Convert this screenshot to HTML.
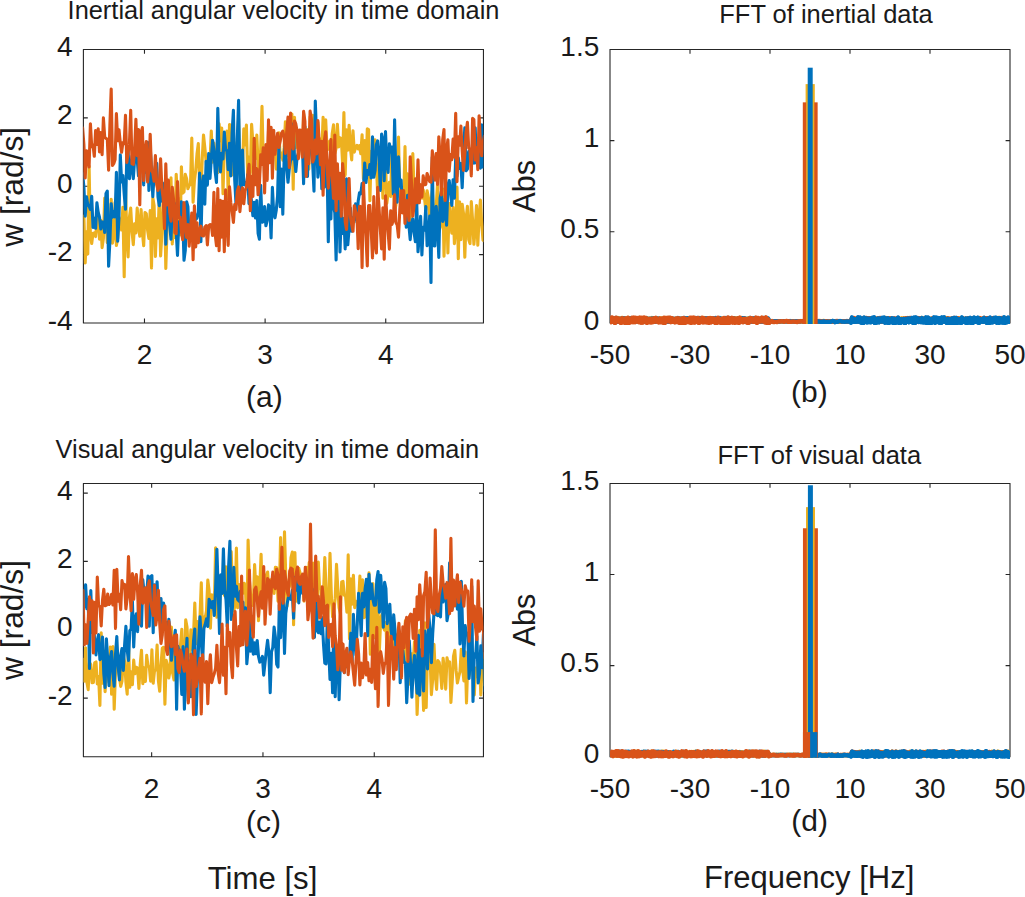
<!DOCTYPE html>
<html><head><meta charset="utf-8"><title>Angular velocity figure</title>
<style>html,body{margin:0;padding:0;background:#fff;overflow:hidden}svg{display:block}text{font-family:"Liberation Sans",sans-serif}</style>
</head><body>
<svg width="1025" height="897" viewBox="0 0 1025 897" font-family='"Liberation Sans", sans-serif'><rect width="100%" height="100%" fill="#fff"/><defs><clipPath id="ca"><rect x="83.4" y="46.45" width="400.04999999999995" height="278.55"/></clipPath><clipPath id="cc"><rect x="83.4" y="480.45" width="400.04999999999995" height="278.25000000000006"/></clipPath><clipPath id="cb"><rect x="610.0" y="46.45" width="400.0" height="278.55"/></clipPath><clipPath id="cd"><rect x="610.0" y="480.45" width="400.0" height="278.25000000000006"/></clipPath></defs><path d="M144.48 323V318.6M144.48 49.45V53.85M265.11 323V318.6M265.11 49.45V53.85M385.74 323V318.6M385.74 49.45V53.85M83.4 323H87.8M483.45 323H479.05M83.4 254.61H87.8M483.45 254.61H479.05M83.4 186.22H87.8M483.45 186.22H479.05M83.4 117.84H87.8M483.45 117.84H479.05M83.4 49.45H87.8M483.45 49.45H479.05M82.9 49.45H483.95M82.9 323H483.95M83.4 49.45V323M483.45 49.45V323" stroke="#262626" stroke-width="1.1" fill="none"/><text transform="translate(144.48 364.3)" font-size="28" text-anchor="middle" fill="#1a1a1a">2</text><text transform="translate(265.11 364.3)" font-size="28" text-anchor="middle" fill="#1a1a1a">3</text><text transform="translate(385.74 364.3)" font-size="28" text-anchor="middle" fill="#1a1a1a">4</text><text transform="translate(72.7 329.5)" font-size="28" text-anchor="end" fill="#1a1a1a">-4</text><text transform="translate(72.7 261.11)" font-size="28" text-anchor="end" fill="#1a1a1a">-2</text><text transform="translate(72.7 192.72)" font-size="28" text-anchor="end" fill="#1a1a1a">0</text><text transform="translate(72.7 124.34)" font-size="28" text-anchor="end" fill="#1a1a1a">2</text><text transform="translate(72.7 55.95)" font-size="28" text-anchor="end" fill="#1a1a1a">4</text><path d="M151.65 756.7V752.3M151.65 483.45V487.85M262.96 756.7V752.3M262.96 483.45V487.85M374.26 756.7V752.3M374.26 483.45V487.85M83.4 698.1H87.8M483.45 698.1H479.05M83.4 629.76H87.8M483.45 629.76H479.05M83.4 561.42H87.8M483.45 561.42H479.05M83.4 493.09H87.8M483.45 493.09H479.05M82.9 483.45H483.95M82.9 756.7H483.95M83.4 483.45V756.7M483.45 483.45V756.7" stroke="#262626" stroke-width="1.1" fill="none"/><text transform="translate(151.65 798.4)" font-size="28" text-anchor="middle" fill="#1a1a1a">2</text><text transform="translate(262.96 798.4)" font-size="28" text-anchor="middle" fill="#1a1a1a">3</text><text transform="translate(374.26 798.4)" font-size="28" text-anchor="middle" fill="#1a1a1a">4</text><text transform="translate(72.7 704.6)" font-size="28" text-anchor="end" fill="#1a1a1a">-2</text><text transform="translate(72.7 636.26)" font-size="28" text-anchor="end" fill="#1a1a1a">0</text><text transform="translate(72.7 567.92)" font-size="28" text-anchor="end" fill="#1a1a1a">2</text><text transform="translate(72.7 499.59)" font-size="28" text-anchor="end" fill="#1a1a1a">4</text><path d="M610 323V318.6M610 49.45V53.85M690 323V318.6M690 49.45V53.85M770 323V318.6M770 49.45V53.85M850 323V318.6M850 49.45V53.85M930 323V318.6M930 49.45V53.85M1010 323V318.6M1010 49.45V53.85M610 323H614.4M1010 323H1005.6M610 231.82H614.4M1010 231.82H1005.6M610 140.63H614.4M1010 140.63H1005.6M610 49.45H614.4M1010 49.45H1005.6M609.5 49.45H1010.5M609.5 323H1010.5M610 49.45V323M1010 49.45V323" stroke="#262626" stroke-width="1.1" fill="none"/><text transform="translate(610 364.3)" font-size="28" text-anchor="middle" fill="#1a1a1a">-50</text><text transform="translate(690 364.3)" font-size="28" text-anchor="middle" fill="#1a1a1a">-30</text><text transform="translate(770 364.3)" font-size="28" text-anchor="middle" fill="#1a1a1a">-10</text><text transform="translate(850 364.3)" font-size="28" text-anchor="middle" fill="#1a1a1a">10</text><text transform="translate(930 364.3)" font-size="28" text-anchor="middle" fill="#1a1a1a">30</text><text transform="translate(1010 364.3)" font-size="28" text-anchor="middle" fill="#1a1a1a">50</text><text transform="translate(599.3 329.5)" font-size="28" text-anchor="end" fill="#1a1a1a">0</text><text transform="translate(599.3 238.32)" font-size="28" text-anchor="end" fill="#1a1a1a">0.5</text><text transform="translate(599.3 147.13)" font-size="28" text-anchor="end" fill="#1a1a1a">1</text><text transform="translate(599.3 55.95)" font-size="28" text-anchor="end" fill="#1a1a1a">1.5</text><path d="M610 756.7V752.3M610 483.45V487.85M690 756.7V752.3M690 483.45V487.85M770 756.7V752.3M770 483.45V487.85M850 756.7V752.3M850 483.45V487.85M930 756.7V752.3M930 483.45V487.85M1010 756.7V752.3M1010 483.45V487.85M610 756.7H614.4M1010 756.7H1005.6M610 665.62H614.4M1010 665.62H1005.6M610 574.53H614.4M1010 574.53H1005.6M610 483.45H614.4M1010 483.45H1005.6M609.5 483.45H1010.5M609.5 756.7H1010.5M610 483.45V756.7M1010 483.45V756.7" stroke="#262626" stroke-width="1.1" fill="none"/><text transform="translate(610 798.4)" font-size="28" text-anchor="middle" fill="#1a1a1a">-50</text><text transform="translate(690 798.4)" font-size="28" text-anchor="middle" fill="#1a1a1a">-30</text><text transform="translate(770 798.4)" font-size="28" text-anchor="middle" fill="#1a1a1a">-10</text><text transform="translate(850 798.4)" font-size="28" text-anchor="middle" fill="#1a1a1a">10</text><text transform="translate(930 798.4)" font-size="28" text-anchor="middle" fill="#1a1a1a">30</text><text transform="translate(1010 798.4)" font-size="28" text-anchor="middle" fill="#1a1a1a">50</text><text transform="translate(599.3 763.2)" font-size="28" text-anchor="end" fill="#1a1a1a">0</text><text transform="translate(599.3 672.12)" font-size="28" text-anchor="end" fill="#1a1a1a">0.5</text><text transform="translate(599.3 581.03)" font-size="28" text-anchor="end" fill="#1a1a1a">1</text><text transform="translate(599.3 489.95)" font-size="28" text-anchor="end" fill="#1a1a1a">1.5</text><polyline points="77.4,193.7 78.7,286.9 80.0,210.0 81.3,224.0 82.6,218.6 83.9,216.0 85.2,263.0 86.5,231.8 87.8,254.0 89.1,166.1 90.4,235.5 91.7,243.5 93.0,233.2 94.3,232.9 95.6,236.6 96.9,223.7 98.2,212.5 99.5,239.2 100.8,220.4 102.1,247.6 103.4,238.2 104.7,198.1 106.0,217.1 107.3,242.6 108.6,241.4 109.9,230.3 111.2,199.4 112.5,243.1 113.8,234.9 115.1,202.3 116.4,245.5 117.7,238.0 119.0,217.6 120.3,225.0 121.6,230.0 122.9,207.3 124.2,276.7 125.5,188.2 126.8,235.4 128.1,256.9 129.4,217.4 130.7,208.0 132.0,231.3 133.3,244.7 134.6,223.8 135.9,233.0 137.2,208.0 138.5,226.2 139.8,236.2 141.1,209.5 142.4,232.7 143.7,245.8 145.0,212.5 146.3,213.6 147.6,230.2 148.9,238.5 150.2,210.6 151.5,267.9 152.8,197.8 154.1,205.8 155.4,256.5 156.7,218.7 158.0,238.0 159.3,195.5 160.6,255.9 161.9,233.3 163.2,201.9 164.5,195.3 165.8,268.5 167.1,227.4 168.4,204.6 169.7,224.1 171.0,177.9 172.3,243.9 173.6,210.7 174.9,237.7 176.2,174.2 177.5,197.3 178.8,201.5 180.1,234.9 181.4,166.7 182.7,193.1 184.0,191.9 185.3,174.4 186.6,178.7 187.9,188.7 189.2,185.5 190.5,184.4 191.8,138.0 193.1,202.1 194.4,181.0 195.7,170.6 197.0,154.0 198.3,143.6 199.6,184.0 200.9,196.2 202.2,159.9 203.5,135.0 204.8,147.5 206.1,161.4 207.4,173.4 208.7,156.7 210.0,162.2 211.3,131.0 212.6,162.1 213.9,143.0 215.2,157.2 216.5,155.2 217.8,172.7 219.1,123.8 220.4,140.8 221.7,128.1 223.0,193.6 224.3,147.5 225.6,152.3 226.9,131.0 228.2,198.7 229.5,124.5 230.8,125.7 232.1,175.0 233.4,165.2 234.7,161.9 236.0,147.6 237.3,141.7 238.6,118.5 239.9,175.0 241.2,156.7 242.5,169.3 243.8,128.8 245.1,144.9 246.4,125.0 247.7,176.4 249.0,157.3 250.3,173.9 251.6,124.4 252.9,142.5 254.2,159.9 255.5,158.3 256.8,135.0 258.1,163.7 259.4,174.8 260.7,149.2 262.0,106.4 263.3,161.5 264.6,159.2 265.9,165.0 267.2,166.8 268.5,131.0 269.8,133.3 271.1,159.7 272.4,153.2 273.7,151.4 275.0,140.6 276.3,169.2 277.6,142.7 278.9,132.7 280.2,157.1 281.5,153.0 282.8,160.2 284.1,147.7 285.4,121.7 286.7,154.2 288.0,155.6 289.3,139.5 290.6,143.4 291.9,114.0 293.2,189.3 294.5,117.3 295.8,147.4 297.1,141.3 298.4,136.4 299.7,139.1 301.0,141.4 302.3,155.2 303.6,113.6 304.9,148.6 306.2,144.7 307.5,129.6 308.8,169.1 310.1,116.7 311.4,144.8 312.7,115.2 314.0,155.9 315.3,154.7 316.6,136.2 317.9,122.3 319.2,155.0 320.5,139.0 321.8,152.5 323.1,117.4 324.4,164.8 325.7,119.7 327.0,148.9 328.3,149.2 329.6,141.3 330.9,155.3 332.2,133.8 333.5,124.9 334.8,153.7 336.1,148.4 337.4,124.3 338.7,146.9 340.0,137.7 341.3,138.5 342.6,163.5 343.9,112.6 345.2,175.4 346.5,129.9 347.8,150.2 349.1,125.3 350.4,148.1 351.7,159.9 353.0,130.8 354.3,152.2 355.6,147.3 356.9,145.4 358.2,149.0 359.5,145.7 360.8,153.7 362.1,134.9 363.4,178.8 364.7,140.6 366.0,172.6 367.3,128.8 368.6,129.5 369.9,200.8 371.2,151.2 372.5,154.3 373.8,173.8 375.1,139.7 376.4,164.1 377.7,195.7 379.0,164.9 380.3,165.3 381.6,163.7 382.9,198.1 384.2,160.9 385.5,160.6 386.8,203.4 388.1,193.4 389.4,182.4 390.7,196.4 392.0,148.2 393.3,184.3 394.6,211.3 395.9,204.9 397.2,187.8 398.5,137.1 399.8,196.7 401.1,195.4 402.4,190.2 403.7,202.1 405.0,146.6 406.3,204.6 407.6,173.8 408.9,187.7 410.2,180.0 411.5,221.3 412.8,153.6 414.1,190.3 415.4,181.7 416.7,202.3 418.0,202.9 419.3,184.2 420.6,185.7 421.9,198.2 423.2,189.8 424.5,198.2 425.8,210.0 427.1,190.7 428.4,197.9 429.7,216.9 431.0,201.8 432.3,191.0 433.6,214.9 434.9,229.0 436.2,207.3 437.5,183.8 438.8,232.0 440.1,227.5 441.4,223.8 442.7,188.9 444.0,256.1 445.3,211.4 446.6,201.0 447.9,252.9 449.2,203.5 450.5,219.3 451.8,233.2 453.1,207.4 454.4,243.7 455.7,228.4 457.0,187.0 458.3,258.7 459.6,201.8 460.9,239.6 462.2,204.2 463.5,213.4 464.8,257.1 466.1,219.5 467.4,206.3 468.7,239.5 470.0,243.6 471.3,201.5 472.6,220.3 473.9,244.3 475.2,228.8 476.5,205.6 477.8,245.3 479.1,217.6 480.4,200.0 481.7,223.5 483.0,240.2 484.3,240.7 485.6,216.7 486.9,206.1 488.2,228.9 489.5,226.5" fill="none" stroke="#EDB120" stroke-width="3.1" stroke-linejoin="round" stroke-linecap="butt" clip-path="url(#ca)"/><polyline points="77.4,186.9 78.7,179.9 80.0,190.5 81.3,225.3 82.6,173.5 83.9,187.0 85.2,216.1 86.5,196.8 87.8,205.0 89.1,205.9 90.4,209.4 91.7,196.2 93.0,227.5 94.3,218.2 95.6,228.3 96.9,202.8 98.2,212.4 99.5,217.1 100.8,229.0 102.1,221.9 103.4,222.5 104.7,232.5 106.0,193.4 107.3,191.0 108.6,266.1 109.9,241.2 111.2,203.7 112.5,217.1 113.8,211.5 115.1,216.8 116.4,172.4 117.7,241.1 119.0,216.8 120.3,154.9 121.6,181.9 122.9,175.4 124.2,193.9 125.5,209.3 126.8,157.0 128.1,150.9 129.4,178.8 130.7,167.4 132.0,156.1 133.3,178.6 134.6,159.9 135.9,156.1 137.2,159.5 138.5,175.8 139.8,154.6 141.1,150.0 142.4,162.2 143.7,184.9 145.0,145.5 146.3,172.5 147.6,142.3 148.9,190.4 150.2,147.4 151.5,169.5 152.8,196.6 154.1,173.8 155.4,165.8 156.7,163.4 158.0,197.1 159.3,205.6 160.6,180.9 161.9,201.1 163.2,189.8 164.5,183.0 165.8,244.1 167.1,205.5 168.4,187.2 169.7,225.1 171.0,239.3 172.3,205.5 173.6,218.4 174.9,203.9 176.2,231.3 177.5,255.4 178.8,221.9 180.1,229.1 181.4,201.9 182.7,217.0 184.0,260.2 185.3,250.2 186.6,201.7 187.9,206.6 189.2,239.3 190.5,228.9 191.8,222.9 193.1,224.5 194.4,212.5 195.7,219.5 197.0,217.9 198.3,211.9 199.6,173.0 200.9,241.6 202.2,186.2 203.5,176.0 204.8,204.3 206.1,161.4 207.4,185.2 208.7,153.5 210.0,178.4 211.3,158.6 212.6,140.2 213.9,150.7 215.2,171.7 216.5,182.5 217.8,108.4 219.1,155.2 220.4,171.9 221.7,153.3 223.0,158.9 224.3,132.0 225.6,149.5 226.9,151.0 228.2,169.7 229.5,143.2 230.8,176.0 232.1,133.3 233.4,110.3 234.7,179.7 236.0,204.2 237.3,139.1 238.6,100.4 239.9,185.6 241.2,192.2 242.5,150.1 243.8,184.8 245.1,182.3 246.4,186.6 247.7,174.9 249.0,203.6 250.3,191.7 251.6,202.3 252.9,215.8 254.2,202.3 255.5,218.0 256.8,200.5 258.1,233.3 259.4,239.2 260.7,185.4 262.0,222.3 263.3,221.6 264.6,206.5 265.9,225.8 267.2,220.4 268.5,204.9 269.8,207.3 271.1,238.0 272.4,187.3 273.7,213.3 275.0,217.8 276.3,209.9 277.6,195.6 278.9,146.6 280.2,206.6 281.5,169.0 282.8,214.3 284.1,159.9 285.4,137.8 286.7,167.1 288.0,182.3 289.3,168.3 290.6,160.0 291.9,159.1 293.2,124.0 294.5,158.4 295.8,171.5 297.1,157.0 298.4,153.1 299.7,146.7 301.0,147.9 302.3,141.8 303.6,183.6 304.9,126.6 306.2,160.4 307.5,176.5 308.8,138.0 310.1,126.8 311.4,151.2 312.7,163.8 314.0,191.2 315.3,101.0 316.6,139.4 317.9,177.1 319.2,162.9 320.5,143.3 321.8,188.8 323.1,161.2 324.4,187.2 325.7,154.9 327.0,161.0 328.3,241.6 329.6,176.3 330.9,219.0 332.2,168.0 333.5,205.9 334.8,212.7 336.1,259.9 337.4,196.0 338.7,188.0 340.0,252.0 341.3,212.6 342.6,233.5 343.9,218.6 345.2,248.9 346.5,178.7 347.8,244.8 349.1,228.5 350.4,208.0 351.7,231.3 353.0,217.7 354.3,219.7 355.6,203.8 356.9,222.2 358.2,201.0 359.5,192.7 360.8,193.8 362.1,183.5 363.4,190.0 364.7,163.1 366.0,182.5 367.3,170.5 368.6,174.4 369.9,164.5 371.2,178.0 372.5,136.9 373.8,177.3 375.1,170.1 376.4,144.5 377.7,140.9 379.0,155.7 380.3,190.4 381.6,134.1 382.9,139.7 384.2,180.6 385.5,131.5 386.8,164.4 388.1,172.5 389.4,143.7 390.7,151.9 392.0,147.0 393.3,193.7 394.6,119.7 395.9,178.3 397.2,202.3 398.5,156.8 399.8,186.2 401.1,180.0 402.4,205.6 403.7,207.0 405.0,203.7 406.3,227.3 407.6,195.4 408.9,225.0 410.2,239.6 411.5,223.8 412.8,218.9 414.1,232.9 415.4,241.8 416.7,200.9 418.0,251.8 419.3,235.9 420.6,216.4 421.9,254.9 423.2,227.3 424.5,230.2 425.8,206.6 427.1,245.7 428.4,237.6 429.7,216.1 431.0,282.5 432.3,157.0 433.6,245.8 434.9,245.9 436.2,206.3 437.5,222.3 438.8,257.4 440.1,198.3 441.4,191.3 442.7,221.4 444.0,217.8 445.3,198.5 446.6,225.3 447.9,185.4 449.2,180.5 450.5,192.5 451.8,205.4 453.1,179.7 454.4,198.1 455.7,157.3 457.0,176.1 458.3,157.7 459.6,168.5 460.9,163.5 462.2,187.8 463.5,155.1 464.8,127.8 466.1,170.7 467.4,169.1 468.7,151.5 470.0,155.0 471.3,161.3 472.6,147.1 473.9,163.1 475.2,127.9 476.5,163.3 477.8,156.2 479.1,141.0 480.4,168.2 481.7,124.9 483.0,167.0 484.3,164.6 485.6,149.6 486.9,143.3 488.2,177.7 489.5,154.2" fill="none" stroke="#0072BD" stroke-width="3.1" stroke-linejoin="round" stroke-linecap="butt" clip-path="url(#ca)"/><polyline points="77.4,146.7 78.7,168.2 80.0,171.0 81.3,220.8 82.6,127.7 83.9,144.5 85.2,177.9 86.5,150.7 87.8,156.3 89.1,167.0 90.4,123.7 91.7,146.7 93.0,144.8 94.3,156.3 95.6,130.6 96.9,144.5 98.2,128.9 99.5,152.0 100.8,132.5 102.1,154.7 103.4,117.8 104.7,137.1 106.0,138.5 107.3,139.2 108.6,170.3 109.9,125.1 111.2,89.1 112.5,165.5 113.8,163.4 115.1,159.5 116.4,113.6 117.7,140.7 119.0,129.7 120.3,143.0 121.6,152.3 122.9,142.5 124.2,143.6 125.5,115.3 126.8,162.4 128.1,153.1 129.4,144.4 130.7,110.4 132.0,163.9 133.3,164.4 134.6,149.8 135.9,119.2 137.2,155.8 138.5,129.5 139.8,204.7 141.1,132.5 142.4,127.6 143.7,180.5 145.0,151.3 146.3,141.6 147.6,182.0 148.9,168.9 150.2,134.2 151.5,170.7 152.8,172.7 154.1,181.2 155.4,155.5 156.7,184.7 158.0,190.3 159.3,185.7 160.6,158.9 161.9,188.5 163.2,198.2 164.5,228.8 165.8,163.8 167.1,205.0 168.4,180.0 169.7,212.1 171.0,221.1 172.3,187.3 173.6,199.8 174.9,232.8 176.2,233.7 177.5,181.6 178.8,217.8 180.1,217.1 181.4,231.8 182.7,239.8 184.0,202.6 185.3,223.6 186.6,237.4 187.9,224.5 189.2,246.2 190.5,228.1 191.8,213.0 193.1,259.7 194.4,205.7 195.7,247.0 197.0,222.7 198.3,242.8 199.6,230.3 200.9,226.2 202.2,235.8 203.5,235.9 204.8,227.3 206.1,225.6 207.4,245.0 208.7,225.7 210.0,224.6 211.3,224.7 212.6,235.5 213.9,192.3 215.2,234.5 216.5,245.7 217.8,188.5 219.1,250.8 220.4,200.2 221.7,237.1 223.0,201.4 224.3,251.6 225.6,189.8 226.9,220.7 228.2,245.4 229.5,186.8 230.8,202.7 232.1,211.0 233.4,222.4 234.7,204.6 236.0,209.4 237.3,191.2 238.6,186.9 239.9,211.6 241.2,197.5 242.5,187.9 243.8,203.8 245.1,190.8 246.4,187.3 247.7,176.2 249.0,164.3 250.3,210.7 251.6,176.5 252.9,196.4 254.2,138.2 255.5,184.8 256.8,168.7 258.1,194.8 259.4,184.2 260.7,154.7 262.0,164.5 263.3,147.8 264.6,193.0 265.9,144.5 267.2,180.4 268.5,119.9 269.8,162.7 271.1,127.3 272.4,178.2 273.7,130.4 275.0,154.3 276.3,142.7 277.6,133.4 278.9,147.5 280.2,141.2 281.5,133.2 282.8,131.1 284.1,137.2 285.4,153.4 286.7,131.9 288.0,117.1 289.3,167.5 290.6,113.0 291.9,144.6 293.2,149.0 294.5,121.0 295.8,123.9 297.1,131.3 298.4,158.6 299.7,130.1 301.0,130.3 302.3,157.3 303.6,111.4 304.9,121.1 306.2,176.4 307.5,130.3 308.8,163.8 310.1,111.1 311.4,118.9 312.7,162.0 314.0,158.4 315.3,140.0 316.6,153.9 317.9,120.5 319.2,142.1 320.5,164.8 321.8,141.2 323.1,195.3 324.4,140.5 325.7,131.7 327.0,164.6 328.3,188.1 329.6,168.2 330.9,139.5 332.2,175.6 333.5,198.5 334.8,135.1 336.1,210.7 337.4,163.7 338.7,198.7 340.0,173.2 341.3,216.3 342.6,163.6 343.9,180.2 345.2,221.7 346.5,229.5 347.8,201.6 349.1,178.6 350.4,217.0 351.7,224.6 353.0,231.3 354.3,205.7 355.6,211.2 356.9,214.7 358.2,248.7 359.5,206.2 360.8,206.7 362.1,267.4 363.4,182.8 364.7,213.8 366.0,237.0 367.3,266.0 368.6,205.6 369.9,205.6 371.2,230.1 372.5,257.9 373.8,196.6 375.1,244.3 376.4,252.9 377.7,187.2 379.0,207.1 380.3,229.1 381.6,248.9 382.9,207.9 384.2,259.2 385.5,195.8 386.8,214.1 388.1,232.2 389.4,249.2 390.7,210.7 392.0,224.4 393.3,219.3 394.6,194.7 395.9,222.6 397.2,225.0 398.5,237.2 399.8,209.7 401.1,190.7 402.4,212.9 403.7,190.6 405.0,223.5 406.3,200.2 407.6,205.2 408.9,220.4 410.2,156.9 411.5,183.2 412.8,216.1 414.1,206.3 415.4,178.8 416.7,202.8 418.0,159.8 419.3,202.8 420.6,184.8 421.9,196.9 423.2,175.9 424.5,184.8 425.8,184.4 427.1,173.5 428.4,177.5 429.7,181.6 431.0,182.2 432.3,150.9 433.6,162.6 434.9,180.2 436.2,153.6 437.5,184.5 438.8,136.7 440.1,156.2 441.4,195.0 442.7,139.7 444.0,129.5 445.3,200.5 446.6,150.2 447.9,139.8 449.2,171.2 450.5,154.5 451.8,159.7 453.1,139.1 454.4,157.1 455.7,113.4 457.0,181.6 458.3,136.7 459.6,145.3 460.9,126.1 462.2,151.0 463.5,170.4 464.8,154.4 466.1,131.9 467.4,122.4 468.7,148.1 470.0,149.3 471.3,175.9 472.6,118.4 473.9,119.7 475.2,160.0 476.5,147.9 477.8,169.6 479.1,115.8 480.4,142.6 481.7,155.8 483.0,143.0 484.3,136.4 485.6,146.6 486.9,156.3 488.2,151.5 489.5,161.4" fill="none" stroke="#D95319" stroke-width="3.1" stroke-linejoin="round" stroke-linecap="butt" clip-path="url(#ca)"/><polyline points="77.8,619.8 79.1,731.6 80.4,652.7 81.7,680.5 83.0,659.3 84.3,681.1 85.6,647.7 86.9,682.3 88.2,689.6 89.5,662.5 90.8,664.6 92.1,682.8 93.4,682.5 94.7,662.8 96.0,661.9 97.3,684.0 98.6,676.5 99.9,705.4 101.2,632.9 102.5,683.3 103.8,661.6 105.1,691.8 106.4,662.2 107.7,666.3 109.0,682.5 110.3,647.0 111.6,694.2 112.9,646.5 114.2,709.2 115.5,671.6 116.8,654.1 118.1,667.6 119.4,676.5 120.7,686.4 122.0,681.1 123.3,656.5 124.6,661.7 125.9,682.0 127.2,694.1 128.5,644.0 129.8,687.3 131.1,671.8 132.4,684.7 133.7,660.1 135.0,673.8 136.3,667.2 137.6,668.3 138.9,688.4 140.2,665.0 141.5,650.2 142.8,683.8 144.1,667.9 145.4,681.5 146.7,655.4 148.0,666.1 149.3,666.7 150.6,681.2 151.9,649.8 153.2,683.3 154.5,670.9 155.8,669.4 157.1,645.0 158.4,680.9 159.7,691.2 161.0,664.6 162.3,648.3 163.6,647.3 164.9,704.3 166.2,660.4 167.5,665.9 168.8,678.0 170.1,670.1 171.4,627.0 172.7,673.3 174.0,680.0 175.3,646.2 176.6,657.9 177.9,654.2 179.2,666.8 180.5,645.0 181.8,629.4 183.1,678.0 184.4,673.9 185.7,619.8 187.0,627.0 188.3,652.7 189.6,655.8 190.9,629.9 192.2,649.5 193.5,636.4 194.8,603.0 196.1,643.8 197.4,621.6 198.7,642.9 200.0,616.6 201.3,582.8 202.6,636.8 203.9,617.3 205.2,618.0 206.5,610.8 207.8,580.0 209.1,590.5 210.4,628.3 211.7,594.9 213.0,606.3 214.3,608.6 215.6,547.8 216.9,617.1 218.2,589.8 219.5,610.5 220.8,576.3 222.1,587.5 223.4,592.4 224.7,595.7 226.0,566.8 227.3,608.0 228.6,599.6 229.9,605.3 231.2,551.5 232.5,589.3 233.8,611.0 235.1,604.8 236.4,548.1 237.7,607.7 239.0,584.6 240.3,585.5 241.6,586.1 242.9,593.2 244.2,583.2 245.5,587.9 246.8,636.3 248.1,540.1 249.4,580.2 250.7,596.4 252.0,598.4 253.3,605.6 254.6,564.5 255.9,589.0 257.2,576.8 258.5,620.8 259.8,586.1 261.1,554.2 262.4,606.6 263.7,584.6 265.0,600.8 266.3,575.1 267.6,572.0 268.9,589.8 270.2,600.1 271.5,579.4 272.8,582.2 274.1,593.4 275.4,567.3 276.7,567.8 278.0,601.2 279.3,593.5 280.6,537.6 281.9,588.0 283.2,598.7 284.5,531.8 285.8,577.5 287.1,606.2 288.4,588.5 289.7,585.3 291.0,557.7 292.3,552.1 293.6,624.7 294.9,552.6 296.2,601.2 297.5,569.3 298.8,568.3 300.1,572.9 301.4,582.8 302.7,576.0 304.0,601.1 305.3,572.3 306.6,567.4 307.9,584.6 309.2,562.5 310.5,600.4 311.8,600.1 313.1,563.0 314.4,577.3 315.7,602.7 317.0,627.1 318.3,562.0 319.6,588.5 320.9,587.9 322.2,612.4 323.5,593.6 324.8,557.6 326.1,591.1 327.4,622.4 328.7,603.0 330.0,553.2 331.3,593.8 332.6,617.0 333.9,610.4 335.2,598.4 336.5,564.4 337.8,588.6 339.1,607.9 340.4,613.7 341.7,581.9 343.0,581.4 344.3,595.2 345.6,596.1 346.9,612.2 348.2,554.9 349.5,638.7 350.8,578.8 352.1,604.1 353.4,575.2 354.7,607.8 356.0,603.8 357.3,601.1 358.6,601.5 359.9,576.1 361.2,624.7 362.5,579.8 363.8,617.6 365.1,616.9 366.4,596.9 367.7,602.2 369.0,572.9 370.3,654.2 371.6,621.6 372.9,583.5 374.2,637.8 375.5,626.8 376.8,592.0 378.1,611.8 379.4,650.6 380.7,618.6 382.0,614.3 383.3,627.1 384.6,630.1 385.9,622.6 387.2,655.7 388.5,619.9 389.8,646.9 391.1,624.0 392.4,630.8 393.7,665.0 395.0,634.2 396.3,638.9 397.6,646.5 398.9,631.2 400.2,657.8 401.5,661.5 402.8,655.0 404.1,654.3 405.4,620.8 406.7,690.0 408.0,642.8 409.3,684.1 410.6,661.0 411.9,653.7 413.2,663.9 414.5,641.8 415.8,651.2 417.1,714.4 418.4,681.2 419.7,630.3 421.0,638.9 422.3,675.8 423.6,710.4 424.9,622.8 426.2,707.4 427.5,650.8 428.8,659.8 430.1,658.7 431.4,694.6 432.7,679.2 434.0,644.2 435.3,673.2 436.6,689.4 437.9,660.6 439.2,662.4 440.5,672.0 441.8,688.4 443.1,658.2 444.4,669.3 445.7,689.2 447.0,657.9 448.3,664.3 449.6,661.8 450.9,702.4 452.2,682.0 453.5,656.4 454.8,650.3 456.1,670.4 457.4,683.0 458.7,676.7 460.0,671.7 461.3,649.2 462.6,667.9 463.9,680.9 465.2,651.9 466.5,702.9 467.8,661.3 469.1,675.8 470.4,669.4 471.7,658.6 473.0,666.0 474.3,695.0 475.6,668.1 476.9,676.6 478.2,661.9 479.5,659.1 480.8,694.9 482.1,664.0 483.4,653.9 484.7,685.1 486.0,656.4 487.3,696.4 488.6,670.6" fill="none" stroke="#EDB120" stroke-width="3.1" stroke-linejoin="round" stroke-linecap="butt" clip-path="url(#cc)"/><polyline points="77.8,613.4 79.1,580.9 80.4,580.1 81.7,615.0 83.0,603.9 84.3,606.8 85.6,584.9 86.9,608.8 88.2,599.5 89.5,668.5 90.8,590.5 92.1,632.4 93.4,617.4 94.7,642.6 96.0,654.9 97.3,640.3 98.6,634.7 99.9,659.7 101.2,657.8 102.5,637.1 103.8,673.5 105.1,687.5 106.4,638.9 107.7,659.8 109.0,685.7 110.3,657.9 111.6,651.6 112.9,673.6 114.2,686.3 115.5,654.3 116.8,636.6 118.1,665.6 119.4,679.9 120.7,655.5 122.0,648.5 123.3,670.5 124.6,645.1 125.9,626.4 127.2,650.0 128.5,660.5 129.8,630.5 131.1,629.2 132.4,601.4 133.7,646.9 135.0,619.4 136.3,613.9 137.6,631.7 138.9,590.7 140.2,588.6 141.5,626.3 142.8,579.9 144.1,592.9 145.4,593.8 146.7,594.2 148.0,576.0 149.3,626.3 150.6,576.9 151.9,575.6 153.2,632.6 154.5,584.8 155.8,602.8 157.1,581.7 158.4,613.2 159.7,605.1 161.0,598.6 162.3,631.7 163.6,603.1 164.9,628.2 166.2,622.3 167.5,653.0 168.8,619.2 170.1,635.4 171.4,660.3 172.7,648.5 174.0,640.1 175.3,630.4 176.6,709.1 177.9,646.4 179.2,653.2 180.5,667.5 181.8,694.5 183.1,646.6 184.4,709.3 185.7,662.7 187.0,638.2 188.3,701.0 189.6,668.5 190.9,696.8 192.2,666.9 193.5,641.5 194.8,629.0 196.1,714.4 197.4,678.5 198.7,641.6 200.0,616.8 201.3,641.0 202.6,662.9 203.9,628.5 205.2,624.5 206.5,618.9 207.8,626.5 209.1,599.4 210.4,601.7 211.7,607.6 213.0,601.6 214.3,615.5 215.6,588.8 216.9,549.2 218.2,591.6 219.5,633.4 220.8,574.8 222.1,593.4 223.4,548.9 224.7,590.0 226.0,599.7 227.3,626.7 228.6,567.2 229.9,541.3 231.2,619.4 232.5,606.7 233.8,567.4 235.1,596.2 236.4,586.2 237.7,599.5 239.0,601.0 240.3,591.4 241.6,623.2 242.9,602.1 244.2,630.3 245.5,607.9 246.8,663.8 248.1,649.6 249.4,604.4 250.7,651.2 252.0,639.4 253.3,654.2 254.6,642.9 255.9,653.8 257.2,640.5 258.5,656.4 259.8,662.1 261.1,660.1 262.4,656.4 263.7,675.2 265.0,663.0 266.3,651.0 267.6,640.3 268.9,653.3 270.2,692.7 271.5,651.9 272.8,647.4 274.1,627.1 275.4,637.1 276.7,664.4 278.0,667.0 279.3,605.1 280.6,637.7 281.9,610.3 283.2,595.3 284.5,653.5 285.8,613.2 287.1,603.6 288.4,597.7 289.7,596.1 291.0,599.3 292.3,590.4 293.6,618.3 294.9,577.4 296.2,590.2 297.5,577.0 298.8,603.0 300.1,586.9 301.4,585.3 302.7,593.5 304.0,585.7 305.3,584.8 306.6,596.2 307.9,592.3 309.2,605.7 310.5,589.6 311.8,601.6 313.1,589.9 314.4,637.5 315.7,587.6 317.0,630.3 318.3,632.6 319.6,622.0 320.9,633.6 322.2,617.6 323.5,644.3 324.8,663.1 326.1,663.8 327.4,616.6 328.7,649.1 330.0,679.4 331.3,653.2 332.6,692.8 333.9,615.8 335.2,696.8 336.5,650.3 337.8,649.9 339.1,699.8 340.4,662.2 341.7,650.4 343.0,666.8 344.3,672.6 345.6,653.3 346.9,666.6 348.2,655.6 349.5,659.3 350.8,633.4 352.1,662.7 353.4,614.4 354.7,641.4 356.0,655.0 357.3,622.7 358.6,593.3 359.9,608.7 361.2,635.6 362.5,593.3 363.8,606.9 365.1,588.9 366.4,579.2 367.7,635.6 369.0,574.4 370.3,598.7 371.6,584.1 372.9,599.2 374.2,605.2 375.5,605.2 376.8,579.8 378.1,571.5 379.4,612.2 380.7,575.4 382.0,594.8 383.3,627.3 384.6,582.4 385.9,588.5 387.2,623.6 388.5,613.4 389.8,604.2 391.1,630.1 392.4,639.5 393.7,614.8 395.0,630.2 396.3,654.1 397.6,639.3 398.9,630.5 400.2,682.7 401.5,654.9 402.8,650.7 404.1,662.4 405.4,662.7 406.7,702.6 408.0,675.6 409.3,640.8 410.6,665.2 411.9,697.2 413.2,669.3 414.5,655.6 415.8,676.1 417.1,693.2 418.4,635.3 419.7,695.2 421.0,649.8 422.3,662.1 423.6,690.9 424.9,631.0 426.2,644.4 427.5,669.0 428.8,614.9 430.1,631.1 431.4,662.6 432.7,633.7 434.0,612.6 435.3,604.5 436.6,614.9 437.9,615.7 439.2,603.2 440.5,616.9 441.8,581.0 443.1,601.9 444.4,594.2 445.7,584.5 447.0,620.7 448.3,613.3 449.6,562.7 450.9,593.7 452.2,608.6 453.5,590.8 454.8,605.8 456.1,585.1 457.4,609.1 458.7,592.2 460.0,644.0 461.3,581.2 462.6,629.0 463.9,655.9 465.2,625.6 466.5,634.9 467.8,633.4 469.1,678.5 470.4,655.1 471.7,585.9 473.0,701.5 474.3,653.8 475.6,657.1 476.9,636.3 478.2,682.9 479.5,673.6 480.8,645.9 482.1,667.7 483.4,633.7 484.7,690.8 486.0,668.8 487.3,603.0 488.6,691.8" fill="none" stroke="#0072BD" stroke-width="3.1" stroke-linejoin="round" stroke-linecap="butt" clip-path="url(#cc)"/><polyline points="77.8,632.7 79.1,623.1 80.4,634.8 81.7,627.1 83.0,590.3 84.3,644.8 85.6,624.7 86.9,643.4 88.2,619.8 89.5,596.7 90.8,619.4 92.1,600.8 93.4,653.0 94.7,602.4 96.0,633.0 97.3,577.1 98.6,606.0 99.9,606.4 101.2,625.9 102.5,600.4 103.8,589.2 105.1,605.8 106.4,605.2 107.7,594.0 109.0,604.5 110.3,602.8 111.6,594.2 112.9,605.0 114.2,570.3 115.5,628.4 116.8,569.4 118.1,601.1 119.4,594.2 120.7,609.8 122.0,580.6 123.3,587.6 124.6,584.4 125.9,609.0 127.2,597.9 128.5,556.6 129.8,588.8 131.1,610.8 132.4,573.5 133.7,599.3 135.0,579.9 136.3,574.5 137.6,592.0 138.9,624.1 140.2,585.9 141.5,570.4 142.8,603.2 144.1,593.9 145.4,587.8 146.7,627.5 148.0,586.3 149.3,580.8 150.6,601.5 151.9,608.3 153.2,615.4 154.5,585.3 155.8,625.0 157.1,615.6 158.4,590.2 159.7,623.4 161.0,643.5 162.3,635.0 163.6,609.5 164.9,605.9 166.2,649.2 167.5,654.5 168.8,621.3 170.1,631.9 171.4,646.7 172.7,644.1 174.0,635.8 175.3,654.5 176.6,634.7 177.9,668.6 179.2,672.5 180.5,650.0 181.8,655.2 183.1,665.4 184.4,671.2 185.7,660.1 187.0,649.0 188.3,703.0 189.6,677.5 190.9,654.2 192.2,658.6 193.5,714.7 194.8,650.5 196.1,686.5 197.4,678.8 198.7,666.7 200.0,658.3 201.3,713.9 202.6,654.9 203.9,671.0 205.2,682.2 206.5,661.5 207.8,703.6 209.1,668.6 210.4,654.7 211.7,682.7 213.0,677.3 214.3,673.5 215.6,668.0 216.9,645.2 218.2,673.3 219.5,682.6 220.8,664.5 222.1,624.1 223.4,675.3 224.7,647.2 226.0,693.8 227.3,624.7 228.6,645.8 229.9,632.6 231.2,663.4 232.5,677.7 233.8,618.6 235.1,611.6 236.4,647.4 237.7,665.9 239.0,626.5 240.3,645.7 241.6,576.1 242.9,644.8 244.2,630.9 245.5,611.4 246.8,645.1 248.1,627.7 249.4,570.0 250.7,614.7 252.0,624.8 253.3,637.3 254.6,589.6 255.9,587.1 257.2,598.5 258.5,616.1 259.8,598.7 261.1,591.7 262.4,608.3 263.7,566.5 265.0,624.2 266.3,600.5 267.6,578.6 268.9,580.3 270.2,614.2 271.5,585.5 272.8,572.1 274.1,586.6 275.4,588.7 276.7,569.3 278.0,575.1 279.3,609.4 280.6,584.9 281.9,547.2 283.2,603.3 284.5,571.3 285.8,579.7 287.1,591.2 288.4,595.4 289.7,571.2 291.0,568.2 292.3,569.0 293.6,611.0 294.9,584.2 296.2,573.4 297.5,567.0 298.8,582.6 300.1,584.4 301.4,576.5 302.7,574.1 304.0,600.4 305.3,567.2 306.6,579.2 307.9,619.8 309.2,608.2 310.5,524.1 311.8,607.0 313.1,638.1 314.4,601.8 315.7,556.1 317.0,600.4 318.3,596.3 319.6,618.0 320.9,616.9 322.2,586.7 323.5,600.7 324.8,625.7 326.1,606.3 327.4,605.1 328.7,637.4 330.0,625.0 331.3,624.4 332.6,646.7 333.9,603.7 335.2,636.0 336.5,646.0 337.8,669.8 339.1,659.8 340.4,596.7 341.7,670.2 343.0,644.0 344.3,672.6 345.6,654.3 346.9,648.2 348.2,674.7 349.5,658.9 350.8,651.9 352.1,659.8 353.4,672.8 354.7,685.1 356.0,661.3 357.3,639.4 358.6,653.6 359.9,685.0 361.2,663.1 362.5,677.7 363.8,670.7 365.1,633.5 366.4,675.0 367.7,662.5 369.0,680.8 370.3,669.4 371.6,682.4 372.9,635.3 374.2,668.5 375.5,688.8 376.8,627.4 378.1,706.4 379.4,655.1 380.7,651.7 382.0,659.4 383.3,673.4 384.6,663.2 385.9,662.9 387.2,632.6 388.5,705.4 389.8,657.7 391.1,636.2 392.4,649.3 393.7,679.1 395.0,647.5 396.3,669.7 397.6,639.2 398.9,623.2 400.2,644.2 401.5,677.9 402.8,626.9 404.1,647.6 405.4,623.6 406.7,617.4 408.0,661.4 409.3,616.9 410.6,614.1 411.9,614.6 413.2,638.5 414.5,609.4 415.8,651.3 417.1,596.7 418.4,619.6 419.7,584.7 421.0,604.8 422.3,655.9 423.6,595.4 424.9,591.5 426.2,572.3 427.5,627.4 428.8,613.1 430.1,578.1 431.4,601.2 432.7,613.0 434.0,613.8 435.3,529.8 436.6,606.6 437.9,611.4 439.2,595.3 440.5,588.3 441.8,566.5 443.1,583.4 444.4,588.4 445.7,598.2 447.0,582.5 448.3,592.3 449.6,613.8 450.9,538.2 452.2,610.5 453.5,580.1 454.8,605.8 456.1,586.1 457.4,574.9 458.7,602.5 460.0,582.4 461.3,589.8 462.6,594.1 463.9,606.1 465.2,585.8 466.5,591.2 467.8,591.1 469.1,641.2 470.4,617.7 471.7,579.9 473.0,621.8 474.3,606.0 475.6,627.9 476.9,639.8 478.2,580.8 479.5,631.1 480.8,608.8 482.1,626.8 483.4,630.7 484.7,657.7 486.0,587.7 487.3,627.9 488.6,658.4" fill="none" stroke="#D95319" stroke-width="3.1" stroke-linejoin="round" stroke-linecap="butt" clip-path="url(#cc)"/><polyline points="610.0,318.2 611.0,321.4 612.0,318.3 613.0,320.7 614.0,318.4 615.0,321.9 616.0,318.6 617.0,320.7 618.0,317.9 619.0,321.5 620.0,318.9 621.0,321.5 622.0,317.9 623.0,320.9 624.0,318.1 625.0,321.5 626.0,318.9 627.0,320.8 628.0,318.0 629.0,321.0 630.0,318.6 631.0,321.5 632.0,318.6 633.0,320.6 634.0,318.9 635.0,321.2 636.0,318.2 637.0,321.4 638.0,318.6 639.0,320.9 640.0,318.2 641.0,320.8 642.0,318.3 643.0,321.3 644.0,318.5 645.0,321.1 646.0,318.9 647.0,320.8 648.0,318.4 649.0,321.0 650.0,319.2 651.0,320.9 652.0,318.0 653.0,321.5 654.0,318.4 655.0,321.1 656.0,318.1 657.0,320.9 658.0,318.4 659.0,320.6 660.0,318.4 661.0,321.9 662.0,318.3 663.0,320.7 664.0,318.4 665.0,321.0 666.0,318.0 667.0,320.6 668.0,319.2 669.0,320.7 670.0,318.8 671.0,321.8 672.0,318.5 673.0,321.5 674.0,319.1 675.0,320.8 676.0,318.7 677.0,321.4 678.0,318.2 679.0,321.4 680.0,318.8 681.0,320.8 682.0,318.6 683.0,320.9 684.0,318.2 685.0,321.8 686.0,318.1 687.0,320.8 688.0,318.2 689.0,320.6 690.0,319.0 691.0,321.5 692.0,318.8 693.0,321.7 694.0,318.3 695.0,321.4 696.0,318.4 697.0,321.8 698.0,318.1 699.0,320.6 700.0,317.9 701.0,321.2 702.0,318.8 703.0,321.7 704.0,318.0 705.0,321.6 706.0,318.3 707.0,320.6 708.0,318.8 709.0,321.7 710.0,317.9 711.0,321.0 712.0,318.2 713.0,320.7 714.0,318.2 715.0,321.1 716.0,319.1 717.0,320.8 718.0,318.5 719.0,321.2 720.0,318.3 721.0,321.1 722.0,318.4 723.0,321.1 724.0,318.2 725.0,320.6 726.0,318.4 727.0,321.4 728.0,319.1 729.0,321.6 730.0,318.4 731.0,321.8 732.0,319.0 733.0,321.2 734.0,318.1 735.0,321.8 736.0,318.3 737.0,321.1 738.0,318.2 739.0,321.2 740.0,318.5 741.0,321.5 742.0,318.0 743.0,320.6 744.0,318.3 745.0,321.8 746.0,318.7 747.0,320.9 748.0,318.5 749.0,320.6 750.0,318.1 751.0,321.2 752.0,318.3 753.0,321.6 754.0,319.2 755.0,320.8 756.0,318.7 757.0,321.4 758.0,318.7 759.0,321.0 760.0,319.2 761.0,321.2 762.0,318.0 763.0,320.6 764.0,318.4 765.0,320.9 766.0,317.9 767.0,321.7 768.0,318.9 769.0,321.9 770.0,321.5 771.0,321.2 772.0,321.2 773.0,321.4 774.0,321.3 775.0,321.5 776.0,321.3 777.0,321.1 778.0,321.4 779.0,321.2 780.0,321.2 781.0,321.5 782.0,321.3 783.0,321.4 784.0,321.4 785.0,321.2 786.0,321.5 787.0,321.3 788.0,321.1 789.0,321.4 790.0,321.5 791.0,321.1 792.0,321.1 793.0,321.4 794.0,321.1 795.0,321.4 796.0,321.4 797.0,321.2 798.0,321.5 799.0,321.3 800.0,321.2 801.0,321.4 802.0,321.5 803.0,321.0 804.0,321.4 805.0,321.4 806.0,321.3 807.0,321.1 808.0,321.3 809.0,321.3 810.0,321.1 811.0,321.0 812.0,321.2 813.0,321.1 814.0,321.4 815.0,321.4 816.0,321.5 817.0,321.4 818.0,321.4 819.0,321.1 820.0,321.0 821.0,321.5 822.0,321.2 823.0,321.0 824.0,321.0 825.0,321.4 826.0,321.2 827.0,321.2 828.0,321.5 829.0,321.5 830.0,321.1 831.0,321.3 832.0,321.2 833.0,321.5 834.0,321.4 835.0,321.1 836.0,321.3 837.0,321.3 838.0,321.1 839.0,321.5 840.0,321.5 841.0,321.3 842.0,321.2 843.0,321.4 844.0,321.3 845.0,321.1 846.0,321.1 847.0,321.4 848.0,321.1 849.0,321.4 850.0,321.3 851.0,320.9 852.0,318.6 853.0,321.0 854.0,318.5 855.0,321.3 856.0,318.7 857.0,320.9 858.0,318.0 859.0,321.8 860.0,318.6 861.0,321.1 862.0,318.5 863.0,321.3 864.0,317.9 865.0,321.2 866.0,318.7 867.0,321.8 868.0,318.4 869.0,320.8 870.0,318.5 871.0,321.7 872.0,318.5 873.0,320.9 874.0,318.7 875.0,321.6 876.0,318.5 877.0,320.6 878.0,318.8 879.0,321.6 880.0,319.1 881.0,321.1 882.0,318.5 883.0,321.0 884.0,318.3 885.0,320.7 886.0,318.0 887.0,321.6 888.0,318.1 889.0,321.3 890.0,318.6 891.0,321.0 892.0,319.1 893.0,321.3 894.0,318.8 895.0,321.7 896.0,319.0 897.0,320.7 898.0,318.2 899.0,321.9 900.0,318.6 901.0,321.7 902.0,318.3 903.0,321.6 904.0,318.4 905.0,321.3 906.0,318.4 907.0,321.6 908.0,318.0 909.0,321.8 910.0,318.2 911.0,321.8 912.0,319.2 913.0,320.6 914.0,318.9 915.0,320.6 916.0,318.5 917.0,320.9 918.0,318.1 919.0,320.7 920.0,318.2 921.0,320.7 922.0,318.0 923.0,321.1 924.0,318.8 925.0,321.0 926.0,318.3 927.0,321.7 928.0,318.3 929.0,320.8 930.0,318.7 931.0,321.2 932.0,318.8 933.0,321.8 934.0,318.3 935.0,321.5 936.0,318.9 937.0,321.3 938.0,318.9 939.0,321.0 940.0,318.2 941.0,320.9 942.0,318.3 943.0,320.9 944.0,318.2 945.0,320.8 946.0,318.0 947.0,320.7 948.0,318.9 949.0,321.5 950.0,318.7 951.0,320.8 952.0,319.0 953.0,321.3 954.0,318.8 955.0,321.8 956.0,318.2 957.0,321.2 958.0,318.3 959.0,320.9 960.0,318.6 961.0,321.7 962.0,318.0 963.0,320.8 964.0,318.8 965.0,321.6 966.0,318.8 967.0,321.0 968.0,319.1 969.0,321.7 970.0,319.1 971.0,321.5 972.0,319.1 973.0,320.9 974.0,318.0 975.0,320.8 976.0,318.2 977.0,320.9 978.0,318.1 979.0,321.0 980.0,318.5 981.0,321.7 982.0,319.1 983.0,321.1 984.0,318.0 985.0,320.9 986.0,318.5 987.0,321.8 988.0,318.3 989.0,321.8 990.0,318.5 991.0,321.5 992.0,319.1 993.0,321.8 994.0,318.6 995.0,321.3 996.0,318.5 997.0,321.0 998.0,317.9 999.0,321.5 1000.0,318.5 1001.0,320.8 1002.0,318.2 1003.0,321.4 1004.0,318.0 1005.0,321.3 1006.0,318.8 1007.0,321.4 1008.0,319.0 1009.0,320.9 1010.0,318.4" fill="none" stroke="#EDB120" stroke-width="4.3" stroke-linejoin="round" stroke-miterlimit="3" clip-path="url(#cb)"/><polyline points="610.0,318.0 611.0,321.9 612.0,318.0 613.0,321.1 614.0,318.4 615.0,321.9 616.0,317.9 617.0,321.9 618.0,318.7 619.0,321.8 620.0,318.7 621.0,321.1 622.0,318.5 623.0,321.5 624.0,318.2 625.0,321.3 626.0,319.0 627.0,321.4 628.0,318.9 629.0,320.9 630.0,318.3 631.0,321.8 632.0,318.3 633.0,321.2 634.0,319.0 635.0,320.6 636.0,318.2 637.0,321.4 638.0,318.2 639.0,321.2 640.0,319.0 641.0,321.6 642.0,318.5 643.0,321.9 644.0,318.2 645.0,321.5 646.0,318.1 647.0,320.8 648.0,318.8 649.0,321.1 650.0,318.8 651.0,321.4 652.0,318.5 653.0,320.9 654.0,318.1 655.0,321.8 656.0,318.6 657.0,320.6 658.0,318.5 659.0,320.9 660.0,319.1 661.0,321.0 662.0,319.0 663.0,321.4 664.0,319.0 665.0,321.0 666.0,319.0 667.0,321.5 668.0,319.0 669.0,321.7 670.0,318.0 671.0,320.6 672.0,318.9 673.0,320.9 674.0,318.8 675.0,321.4 676.0,319.1 677.0,321.2 678.0,318.0 679.0,321.7 680.0,318.5 681.0,321.5 682.0,318.6 683.0,321.1 684.0,317.9 685.0,321.7 686.0,318.3 687.0,320.9 688.0,318.2 689.0,320.7 690.0,318.7 691.0,321.8 692.0,319.1 693.0,321.0 694.0,318.4 695.0,321.9 696.0,318.0 697.0,321.1 698.0,318.0 699.0,321.4 700.0,318.2 701.0,320.7 702.0,318.2 703.0,321.0 704.0,318.8 705.0,321.4 706.0,318.3 707.0,320.7 708.0,318.2 709.0,321.6 710.0,318.1 711.0,321.3 712.0,318.5 713.0,321.2 714.0,318.2 715.0,320.7 716.0,318.0 717.0,321.8 718.0,318.4 719.0,321.3 720.0,318.0 721.0,321.6 722.0,319.2 723.0,321.0 724.0,318.6 725.0,321.8 726.0,318.0 727.0,321.9 728.0,318.0 729.0,321.3 730.0,318.1 731.0,321.5 732.0,319.0 733.0,321.6 734.0,318.3 735.0,321.8 736.0,319.2 737.0,320.7 738.0,318.4 739.0,320.9 740.0,318.7 741.0,321.3 742.0,318.1 743.0,320.6 744.0,318.1 745.0,321.6 746.0,318.8 747.0,320.9 748.0,319.0 749.0,321.3 750.0,317.9 751.0,321.7 752.0,318.6 753.0,321.6 754.0,318.1 755.0,321.3 756.0,318.9 757.0,320.6 758.0,319.1 759.0,321.4 760.0,318.6 761.0,321.7 762.0,318.2 763.0,321.6 764.0,318.0 765.0,321.0 766.0,319.2 767.0,321.4 768.0,318.2 769.0,321.6 770.0,321.3 771.0,321.3 772.0,321.3 773.0,321.3 774.0,321.2 775.0,321.1 776.0,321.3 777.0,321.1 778.0,321.2 779.0,321.5 780.0,321.4 781.0,321.2 782.0,321.2 783.0,321.3 784.0,321.1 785.0,321.3 786.0,321.2 787.0,321.4 788.0,321.5 789.0,321.2 790.0,321.0 791.0,321.3 792.0,321.4 793.0,321.1 794.0,321.4 795.0,321.4 796.0,321.2 797.0,321.1 798.0,321.4 799.0,321.3 800.0,321.3 801.0,321.2 802.0,321.2 803.0,321.4 804.0,321.1 805.0,321.1 806.0,321.2 807.0,321.2 808.0,321.2 809.0,321.2 810.0,321.7 811.0,321.5 812.0,321.5 813.0,321.1 814.0,321.9 815.0,321.6 816.0,321.3 817.0,321.9 818.0,321.2 819.0,321.3 820.0,321.7 821.0,321.9 822.0,321.7 823.0,321.9 824.0,321.3 825.0,321.9 826.0,321.9 827.0,321.8 828.0,321.7 829.0,321.8 830.0,321.9 831.0,321.6 832.0,321.1 833.0,321.0 834.0,321.2 835.0,322.1 836.0,321.6 837.0,321.9 838.0,321.7 839.0,321.2 840.0,321.0 841.0,321.2 842.0,321.7 843.0,321.7 844.0,321.6 845.0,321.8 846.0,321.4 847.0,321.6 848.0,321.4 849.0,321.6 850.0,322.0 851.0,322.6 852.0,317.5 853.0,321.7 854.0,319.0 855.0,321.7 856.0,319.1 857.0,321.6 858.0,317.4 859.0,321.9 860.0,317.7 861.0,322.5 862.0,319.0 863.0,323.3 864.0,317.7 865.0,321.8 866.0,318.2 867.0,322.4 868.0,318.5 869.0,322.1 870.0,318.6 871.0,322.2 872.0,317.9 873.0,321.8 874.0,317.4 875.0,323.1 876.0,319.0 877.0,322.5 878.0,318.4 879.0,322.3 880.0,318.5 881.0,321.6 882.0,317.9 883.0,321.5 884.0,317.7 885.0,322.7 886.0,318.5 887.0,322.6 888.0,318.3 889.0,323.1 890.0,319.1 891.0,321.5 892.0,318.2 893.0,322.9 894.0,318.7 895.0,323.2 896.0,319.2 897.0,322.1 898.0,317.6 899.0,322.9 900.0,319.2 901.0,322.7 902.0,319.2 903.0,321.6 904.0,319.0 905.0,323.3 906.0,318.9 907.0,321.8 908.0,318.4 909.0,322.2 910.0,318.5 911.0,321.9 912.0,318.0 913.0,322.8 914.0,317.7 915.0,323.0 916.0,317.5 917.0,321.6 918.0,318.3 919.0,322.0 920.0,318.8 921.0,322.1 922.0,318.0 923.0,322.3 924.0,319.2 925.0,322.4 926.0,317.5 927.0,323.2 928.0,317.7 929.0,323.0 930.0,318.8 931.0,323.2 932.0,319.0 933.0,321.8 934.0,317.5 935.0,322.8 936.0,317.6 937.0,321.9 938.0,318.0 939.0,322.6 940.0,318.1 941.0,323.1 942.0,317.5 943.0,321.6 944.0,317.4 945.0,321.9 946.0,319.3 947.0,323.1 948.0,318.8 949.0,322.9 950.0,319.1 951.0,323.3 952.0,318.4 953.0,323.3 954.0,317.9 955.0,323.1 956.0,317.9 957.0,323.3 958.0,319.2 959.0,321.5 960.0,319.3 961.0,323.2 962.0,317.5 963.0,322.0 964.0,319.1 965.0,322.2 966.0,318.5 967.0,323.3 968.0,318.4 969.0,321.9 970.0,317.9 971.0,323.1 972.0,318.7 973.0,322.8 974.0,317.7 975.0,321.9 976.0,318.1 977.0,322.0 978.0,317.8 979.0,323.0 980.0,319.1 981.0,321.5 982.0,319.2 983.0,321.9 984.0,317.9 985.0,321.6 986.0,319.1 987.0,323.0 988.0,318.5 989.0,323.2 990.0,317.6 991.0,322.5 992.0,318.8 993.0,322.3 994.0,317.9 995.0,321.5 996.0,317.8 997.0,322.7 998.0,318.1 999.0,322.9 1000.0,318.1 1001.0,322.3 1002.0,318.9 1003.0,322.6 1004.0,317.4 1005.0,322.8 1006.0,318.8 1007.0,322.3 1008.0,317.6 1009.0,321.9 1010.0,317.4" fill="none" stroke="#0072BD" stroke-width="4.3" stroke-linejoin="round" stroke-miterlimit="3" clip-path="url(#cb)"/><polyline points="610.0,317.7 611.0,322.3 612.0,317.4 613.0,321.8 614.0,318.4 615.0,323.3 616.0,317.6 617.0,321.6 618.0,318.4 619.0,321.9 620.0,318.7 621.0,323.3 622.0,318.2 623.0,322.3 624.0,318.7 625.0,323.1 626.0,318.3 627.0,323.2 628.0,317.7 629.0,323.2 630.0,319.2 631.0,322.3 632.0,317.7 633.0,322.3 634.0,317.5 635.0,322.3 636.0,317.8 637.0,321.5 638.0,317.9 639.0,322.3 640.0,317.5 641.0,322.8 642.0,317.8 643.0,322.7 644.0,317.4 645.0,321.6 646.0,317.9 647.0,323.1 648.0,319.1 649.0,322.4 650.0,318.7 651.0,322.6 652.0,318.9 653.0,322.2 654.0,318.1 655.0,321.7 656.0,317.8 657.0,321.7 658.0,319.3 659.0,322.5 660.0,318.3 661.0,322.4 662.0,318.8 663.0,322.8 664.0,317.6 665.0,323.0 666.0,317.9 667.0,321.4 668.0,317.6 669.0,321.6 670.0,317.6 671.0,322.2 672.0,318.1 673.0,321.7 674.0,319.2 675.0,322.5 676.0,318.4 677.0,322.0 678.0,318.1 679.0,322.8 680.0,318.8 681.0,323.0 682.0,318.4 683.0,323.3 684.0,318.0 685.0,323.2 686.0,318.9 687.0,322.3 688.0,319.3 689.0,322.4 690.0,317.7 691.0,323.1 692.0,317.7 693.0,322.6 694.0,317.5 695.0,322.7 696.0,318.3 697.0,321.8 698.0,317.9 699.0,323.3 700.0,319.1 701.0,322.1 702.0,317.6 703.0,322.6 704.0,318.2 705.0,322.4 706.0,319.3 707.0,322.6 708.0,318.2 709.0,323.0 710.0,318.2 711.0,322.6 712.0,318.1 713.0,321.8 714.0,318.4 715.0,322.9 716.0,319.0 717.0,323.1 718.0,317.6 719.0,322.0 720.0,318.7 721.0,323.3 722.0,318.8 723.0,322.8 724.0,317.9 725.0,323.3 726.0,318.8 727.0,322.8 728.0,317.4 729.0,323.3 730.0,318.4 731.0,322.3 732.0,317.8 733.0,322.7 734.0,318.4 735.0,322.9 736.0,318.8 737.0,322.5 738.0,318.1 739.0,323.1 740.0,317.5 741.0,321.6 742.0,319.1 743.0,322.4 744.0,318.6 745.0,321.6 746.0,318.9 747.0,322.8 748.0,319.0 749.0,322.9 750.0,317.9 751.0,321.4 752.0,318.2 753.0,321.9 754.0,319.3 755.0,321.9 756.0,317.5 757.0,323.2 758.0,317.9 759.0,321.7 760.0,318.8 761.0,321.6 762.0,317.5 763.0,321.6 764.0,318.2 765.0,322.5 766.0,317.3 767.0,323.1 768.0,319.2 769.0,323.3 770.0,321.8 771.0,321.9 772.0,321.1 773.0,322.0 774.0,321.9 775.0,322.0 776.0,321.8 777.0,322.1 778.0,321.5 779.0,321.3 780.0,321.6 781.0,321.4 782.0,321.2 783.0,321.4 784.0,321.9 785.0,321.2 786.0,321.0 787.0,321.0 788.0,321.8 789.0,321.2 790.0,321.8 791.0,321.8 792.0,321.6 793.0,321.4 794.0,321.7 795.0,321.8 796.0,321.7 797.0,322.1 798.0,321.5 799.0,321.4 800.0,321.6 801.0,321.0 802.0,321.2 803.0,321.7 804.0,321.4 805.0,321.5 806.0,321.9 807.0,321.7 808.0,321.4 809.0,321.7 810.0,321.9 811.0,321.1 812.0,321.2 813.0,321.2 814.0,321.0 815.0,321.2 816.0,321.5 817.0,321.1 818.0,321.1 819.0,321.0 820.0,321.3 821.0,321.1 822.0,321.1 823.0,321.2 824.0,321.2 825.0,321.1 826.0,321.4 827.0,321.1 828.0,321.4 829.0,321.4 830.0,321.3 831.0,321.4 832.0,321.5 833.0,321.5 834.0,321.5 835.0,321.2 836.0,321.0 837.0,321.1 838.0,321.0 839.0,321.2 840.0,321.4 841.0,321.3 842.0,321.3 843.0,321.1 844.0,321.1 845.0,321.4 846.0,321.5 847.0,321.0 848.0,321.5 849.0,321.1 850.0,321.0 851.0,320.7 852.0,318.2 853.0,320.7 854.0,317.9 855.0,320.7 856.0,318.8 857.0,320.6 858.0,318.0 859.0,321.8 860.0,318.2 861.0,321.6 862.0,318.6 863.0,321.3 864.0,318.2 865.0,321.2 866.0,317.9 867.0,320.8 868.0,318.3 869.0,321.8 870.0,318.3 871.0,321.6 872.0,318.1 873.0,321.8 874.0,318.1 875.0,321.2 876.0,318.6 877.0,321.1 878.0,318.5 879.0,321.7 880.0,317.9 881.0,321.7 882.0,318.1 883.0,321.1 884.0,318.1 885.0,321.2 886.0,318.1 887.0,321.1 888.0,318.7 889.0,321.4 890.0,318.3 891.0,321.3 892.0,319.1 893.0,321.5 894.0,318.5 895.0,320.7 896.0,318.5 897.0,321.1 898.0,318.3 899.0,321.2 900.0,318.9 901.0,321.1 902.0,319.1 903.0,321.4 904.0,318.8 905.0,321.0 906.0,318.2 907.0,320.8 908.0,318.1 909.0,321.3 910.0,317.9 911.0,321.6 912.0,318.2 913.0,321.8 914.0,318.6 915.0,321.2 916.0,318.4 917.0,321.1 918.0,318.0 919.0,321.9 920.0,318.1 921.0,321.6 922.0,318.5 923.0,321.6 924.0,318.6 925.0,321.7 926.0,318.2 927.0,321.4 928.0,318.0 929.0,321.3 930.0,319.2 931.0,321.9 932.0,318.4 933.0,321.5 934.0,318.8 935.0,321.2 936.0,318.6 937.0,320.6 938.0,318.9 939.0,321.8 940.0,318.5 941.0,320.8 942.0,318.5 943.0,320.9 944.0,318.2 945.0,320.9 946.0,318.7 947.0,321.3 948.0,318.3 949.0,321.5 950.0,318.8 951.0,321.8 952.0,318.5 953.0,320.9 954.0,317.9 955.0,321.4 956.0,318.1 957.0,321.2 958.0,318.2 959.0,320.8 960.0,318.8 961.0,320.8 962.0,318.6 963.0,320.9 964.0,318.8 965.0,321.0 966.0,319.1 967.0,321.9 968.0,318.3 969.0,321.1 970.0,318.6 971.0,321.2 972.0,318.5 973.0,321.5 974.0,318.6 975.0,321.1 976.0,318.3 977.0,321.1 978.0,318.5 979.0,321.2 980.0,318.0 981.0,321.0 982.0,318.8 983.0,321.5 984.0,317.9 985.0,321.2 986.0,318.1 987.0,320.9 988.0,318.3 989.0,321.7 990.0,318.9 991.0,321.0 992.0,318.1 993.0,320.8 994.0,318.3 995.0,321.4 996.0,318.7 997.0,321.5 998.0,318.6 999.0,320.7 1000.0,318.0 1001.0,321.6 1002.0,318.0 1003.0,321.7 1004.0,318.5 1005.0,321.2 1006.0,318.1 1007.0,320.7 1008.0,318.4 1009.0,320.9 1010.0,318.0" fill="none" stroke="#D95319" stroke-width="4.3" stroke-linejoin="round" stroke-miterlimit="3" clip-path="url(#cb)"/><polyline points="811.0,321.5 812.0,321.5 813.0,321.1 814.0,321.9 815.0,321.6 816.0,321.3 817.0,321.9 818.0,321.2 819.0,321.3 820.0,321.7 821.0,321.9 822.0,321.7 823.0,321.9 824.0,321.3 825.0,321.9 826.0,321.9 827.0,321.8 828.0,321.7 829.0,321.8 830.0,321.9 831.0,321.6 832.0,321.1 833.0,321.0 834.0,321.2 835.0,322.1 836.0,321.6 837.0,321.9 838.0,321.7 839.0,321.2 840.0,321.0 841.0,321.2 842.0,321.7 843.0,321.7 844.0,321.6 845.0,321.8 846.0,321.4 847.0,321.6 848.0,321.4 849.0,321.6 850.0,322.0 851.0,322.6 852.0,317.5 853.0,321.7 854.0,319.0 855.0,321.7 856.0,319.1 857.0,321.6 858.0,317.4 859.0,321.9 860.0,317.7 861.0,322.5 862.0,319.0 863.0,323.3 864.0,317.7 865.0,321.8 866.0,318.2 867.0,322.4 868.0,318.5 869.0,322.1 870.0,318.6 871.0,322.2 872.0,317.9 873.0,321.8 874.0,317.4 875.0,323.1 876.0,319.0 877.0,322.5 878.0,318.4 879.0,322.3 880.0,318.5 881.0,321.6 882.0,317.9 883.0,321.5 884.0,317.7 885.0,322.7 886.0,318.5 887.0,322.6 888.0,318.3 889.0,323.1 890.0,319.1 891.0,321.5 892.0,318.2 893.0,322.9 894.0,318.7 895.0,323.2 896.0,319.2 897.0,322.1 898.0,317.6 899.0,322.9 900.0,319.2 901.0,322.7 902.0,319.2 903.0,321.6 904.0,319.0 905.0,323.3 906.0,318.9 907.0,321.8 908.0,318.4 909.0,322.2 910.0,318.5 911.0,321.9 912.0,318.0 913.0,322.8 914.0,317.7 915.0,323.0 916.0,317.5 917.0,321.6 918.0,318.3 919.0,322.0 920.0,318.8 921.0,322.1 922.0,318.0 923.0,322.3 924.0,319.2 925.0,322.4 926.0,317.5 927.0,323.2 928.0,317.7 929.0,323.0 930.0,318.8 931.0,323.2 932.0,319.0 933.0,321.8 934.0,317.5 935.0,322.8 936.0,317.6 937.0,321.9 938.0,318.0 939.0,322.6 940.0,318.1 941.0,323.1 942.0,317.5 943.0,321.6 944.0,317.4 945.0,321.9 946.0,319.3 947.0,323.1 948.0,318.8 949.0,322.9 950.0,319.1 951.0,323.3 952.0,318.4 953.0,323.3 954.0,317.9 955.0,323.1 956.0,317.9 957.0,323.3 958.0,319.2 959.0,321.5 960.0,319.3 961.0,323.2 962.0,317.5 963.0,322.0 964.0,319.1 965.0,322.2 966.0,318.5 967.0,323.3 968.0,318.4 969.0,321.9 970.0,317.9 971.0,323.1 972.0,318.7 973.0,322.8 974.0,317.7 975.0,321.9 976.0,318.1 977.0,322.0 978.0,317.8 979.0,323.0 980.0,319.1 981.0,321.5 982.0,319.2 983.0,321.9 984.0,317.9 985.0,321.6 986.0,319.1 987.0,323.0 988.0,318.5 989.0,323.2 990.0,317.6 991.0,322.5 992.0,318.8 993.0,322.3 994.0,317.9 995.0,321.5 996.0,317.8 997.0,322.7 998.0,318.1 999.0,322.9 1000.0,318.1 1001.0,322.3 1002.0,318.9 1003.0,322.6 1004.0,317.4 1005.0,322.8 1006.0,318.8 1007.0,322.3 1008.0,317.6 1009.0,321.9 1010.0,317.4" fill="none" stroke="#0072BD" stroke-width="4.3" stroke-linejoin="round" stroke-miterlimit="3" clip-path="url(#cb)"/><rect x="805.60" y="84.10" width="9.20" height="239.90" fill="#EDB120"/><rect x="802.80" y="102.34" width="3.40" height="221.66" fill="#D95319"/><rect x="814.25" y="102.34" width="3.40" height="221.66" fill="#D95319"/><rect x="807.70" y="67.69" width="5.00" height="256.31" fill="#0072BD"/><polyline points="610.0,752.4 611.0,754.6 612.0,752.8 613.0,755.2 614.0,752.3 615.0,755.6 616.0,751.8 617.0,755.4 618.0,752.8 619.0,755.0 620.0,752.1 621.0,754.4 622.0,752.3 623.0,754.7 624.0,752.6 625.0,755.3 626.0,752.4 627.0,754.4 628.0,752.4 629.0,755.5 630.0,752.4 631.0,754.5 632.0,752.8 633.0,755.0 634.0,752.0 635.0,754.8 636.0,751.8 637.0,755.0 638.0,751.9 639.0,755.0 640.0,752.1 641.0,754.8 642.0,752.8 643.0,755.2 644.0,751.8 645.0,755.2 646.0,752.4 647.0,754.4 648.0,752.7 649.0,755.0 650.0,752.0 651.0,754.3 652.0,751.7 653.0,755.2 654.0,752.0 655.0,755.6 656.0,752.1 657.0,754.9 658.0,752.6 659.0,755.2 660.0,752.0 661.0,755.5 662.0,751.7 663.0,754.9 664.0,751.8 665.0,755.6 666.0,752.4 667.0,755.1 668.0,752.1 669.0,754.9 670.0,752.3 671.0,754.6 672.0,752.7 673.0,754.7 674.0,752.1 675.0,755.2 676.0,751.8 677.0,754.7 678.0,752.2 679.0,754.9 680.0,752.7 681.0,755.6 682.0,752.5 683.0,755.2 684.0,752.0 685.0,755.3 686.0,751.8 687.0,755.5 688.0,752.5 689.0,755.2 690.0,752.5 691.0,754.7 692.0,751.9 693.0,755.3 694.0,751.9 695.0,754.5 696.0,751.6 697.0,755.1 698.0,752.3 699.0,755.5 700.0,752.8 701.0,754.7 702.0,752.7 703.0,754.7 704.0,751.9 705.0,754.5 706.0,751.9 707.0,755.1 708.0,752.5 709.0,755.4 710.0,752.8 711.0,754.6 712.0,752.3 713.0,754.8 714.0,752.4 715.0,755.6 716.0,752.2 717.0,755.2 718.0,752.3 719.0,754.6 720.0,752.8 721.0,755.3 722.0,752.0 723.0,755.6 724.0,752.6 725.0,754.8 726.0,752.4 727.0,755.1 728.0,752.8 729.0,755.3 730.0,751.9 731.0,754.4 732.0,752.0 733.0,754.7 734.0,752.3 735.0,754.6 736.0,752.0 737.0,755.1 738.0,752.9 739.0,754.5 740.0,751.9 741.0,754.5 742.0,752.3 743.0,755.2 744.0,752.7 745.0,755.0 746.0,752.4 747.0,754.5 748.0,751.9 749.0,754.4 750.0,751.8 751.0,754.7 752.0,752.4 753.0,754.6 754.0,751.8 755.0,755.6 756.0,752.7 757.0,755.1 758.0,752.8 759.0,754.8 760.0,752.6 761.0,755.1 762.0,752.6 763.0,755.1 764.0,751.6 765.0,754.6 766.0,752.7 767.0,755.4 768.0,752.8 769.0,755.3 770.0,755.2 771.0,755.2 772.0,755.0 773.0,754.7 774.0,755.1 775.0,755.0 776.0,754.8 777.0,754.7 778.0,754.8 779.0,755.1 780.0,754.9 781.0,755.1 782.0,754.9 783.0,754.9 784.0,754.8 785.0,755.0 786.0,755.0 787.0,755.0 788.0,754.8 789.0,754.7 790.0,755.1 791.0,754.8 792.0,755.1 793.0,754.9 794.0,755.0 795.0,754.7 796.0,755.1 797.0,755.2 798.0,754.8 799.0,755.1 800.0,755.1 801.0,755.0 802.0,755.1 803.0,754.9 804.0,754.9 805.0,754.7 806.0,754.8 807.0,754.7 808.0,754.8 809.0,755.2 810.0,755.2 811.0,755.2 812.0,755.1 813.0,755.0 814.0,755.1 815.0,755.2 816.0,755.2 817.0,755.2 818.0,755.0 819.0,755.2 820.0,755.0 821.0,754.7 822.0,754.8 823.0,755.0 824.0,754.8 825.0,755.2 826.0,754.7 827.0,754.8 828.0,754.8 829.0,755.2 830.0,755.0 831.0,754.9 832.0,754.7 833.0,754.8 834.0,755.1 835.0,754.7 836.0,754.8 837.0,755.0 838.0,755.0 839.0,755.1 840.0,755.1 841.0,755.1 842.0,755.1 843.0,754.9 844.0,755.1 845.0,755.1 846.0,755.1 847.0,755.2 848.0,754.8 849.0,754.8 850.0,755.0 851.0,754.4 852.0,752.3 853.0,755.1 854.0,752.9 855.0,755.3 856.0,752.5 857.0,754.7 858.0,752.1 859.0,754.4 860.0,751.8 861.0,755.5 862.0,752.9 863.0,754.7 864.0,752.8 865.0,754.5 866.0,751.9 867.0,755.2 868.0,752.6 869.0,754.3 870.0,752.1 871.0,754.9 872.0,752.0 873.0,755.3 874.0,751.8 875.0,754.9 876.0,752.1 877.0,755.5 878.0,752.4 879.0,755.0 880.0,752.5 881.0,755.2 882.0,752.1 883.0,755.3 884.0,751.9 885.0,754.5 886.0,751.8 887.0,755.3 888.0,752.8 889.0,754.8 890.0,752.5 891.0,755.2 892.0,751.6 893.0,754.8 894.0,752.5 895.0,754.9 896.0,751.8 897.0,754.5 898.0,752.0 899.0,754.7 900.0,752.0 901.0,755.4 902.0,752.4 903.0,755.4 904.0,752.1 905.0,755.0 906.0,752.1 907.0,754.5 908.0,752.7 909.0,755.1 910.0,751.7 911.0,754.4 912.0,752.1 913.0,755.5 914.0,752.0 915.0,755.3 916.0,751.8 917.0,755.0 918.0,752.2 919.0,755.5 920.0,752.8 921.0,755.2 922.0,751.9 923.0,755.4 924.0,752.2 925.0,755.4 926.0,751.7 927.0,754.4 928.0,752.9 929.0,754.5 930.0,752.0 931.0,754.5 932.0,752.9 933.0,755.1 934.0,752.6 935.0,754.6 936.0,752.0 937.0,755.0 938.0,752.0 939.0,754.8 940.0,752.1 941.0,755.1 942.0,752.9 943.0,755.1 944.0,752.3 945.0,755.0 946.0,752.3 947.0,755.6 948.0,752.2 949.0,754.6 950.0,751.7 951.0,754.4 952.0,752.5 953.0,755.3 954.0,752.0 955.0,754.6 956.0,751.9 957.0,754.7 958.0,752.1 959.0,754.8 960.0,752.3 961.0,755.1 962.0,752.8 963.0,755.3 964.0,752.5 965.0,754.4 966.0,752.6 967.0,754.5 968.0,752.8 969.0,755.3 970.0,752.7 971.0,755.1 972.0,751.8 973.0,754.4 974.0,752.4 975.0,755.4 976.0,752.4 977.0,755.0 978.0,752.4 979.0,755.3 980.0,751.9 981.0,754.8 982.0,752.9 983.0,755.4 984.0,752.6 985.0,755.2 986.0,751.8 987.0,754.8 988.0,752.7 989.0,754.8 990.0,752.7 991.0,754.6 992.0,751.7 993.0,755.4 994.0,752.6 995.0,755.0 996.0,752.3 997.0,754.4 998.0,751.6 999.0,754.5 1000.0,752.8 1001.0,755.5 1002.0,752.1 1003.0,755.6 1004.0,752.9 1005.0,754.7 1006.0,752.0 1007.0,754.9 1008.0,751.6 1009.0,754.4 1010.0,751.9" fill="none" stroke="#EDB120" stroke-width="4.3" stroke-linejoin="round" stroke-miterlimit="3" clip-path="url(#cd)"/><polyline points="610.0,752.6 611.0,755.0 612.0,752.5 613.0,755.1 614.0,752.7 615.0,754.7 616.0,752.4 617.0,754.5 618.0,751.9 619.0,754.5 620.0,751.7 621.0,754.4 622.0,751.6 623.0,755.4 624.0,752.2 625.0,754.9 626.0,751.7 627.0,754.6 628.0,751.6 629.0,754.5 630.0,752.0 631.0,754.9 632.0,752.9 633.0,755.2 634.0,751.7 635.0,755.6 636.0,752.5 637.0,754.7 638.0,752.4 639.0,754.8 640.0,752.4 641.0,755.1 642.0,752.0 643.0,754.6 644.0,751.8 645.0,754.3 646.0,751.8 647.0,755.1 648.0,751.7 649.0,754.4 650.0,752.8 651.0,755.1 652.0,752.4 653.0,755.4 654.0,751.8 655.0,754.9 656.0,751.7 657.0,755.6 658.0,751.7 659.0,755.2 660.0,751.9 661.0,754.3 662.0,751.9 663.0,754.6 664.0,752.1 665.0,755.5 666.0,752.1 667.0,754.5 668.0,752.3 669.0,754.4 670.0,752.4 671.0,755.3 672.0,752.9 673.0,754.5 674.0,751.7 675.0,755.2 676.0,752.6 677.0,755.0 678.0,751.9 679.0,754.6 680.0,752.7 681.0,755.0 682.0,752.1 683.0,755.3 684.0,751.7 685.0,754.9 686.0,752.7 687.0,754.8 688.0,752.9 689.0,754.8 690.0,752.9 691.0,754.9 692.0,752.6 693.0,754.9 694.0,752.8 695.0,755.2 696.0,751.7 697.0,755.6 698.0,752.6 699.0,754.5 700.0,752.8 701.0,754.7 702.0,752.7 703.0,755.1 704.0,751.8 705.0,754.3 706.0,751.6 707.0,755.3 708.0,751.8 709.0,754.8 710.0,752.8 711.0,755.3 712.0,751.7 713.0,754.3 714.0,752.8 715.0,754.8 716.0,752.7 717.0,755.4 718.0,751.9 719.0,754.5 720.0,751.7 721.0,754.9 722.0,752.7 723.0,755.2 724.0,752.3 725.0,754.4 726.0,752.5 727.0,755.5 728.0,751.9 729.0,754.7 730.0,752.0 731.0,755.3 732.0,751.6 733.0,755.3 734.0,752.2 735.0,755.5 736.0,752.2 737.0,755.5 738.0,752.5 739.0,754.9 740.0,752.4 741.0,755.5 742.0,752.9 743.0,755.6 744.0,752.8 745.0,754.3 746.0,752.4 747.0,754.5 748.0,752.9 749.0,754.5 750.0,751.8 751.0,754.6 752.0,752.9 753.0,755.3 754.0,752.0 755.0,754.3 756.0,752.1 757.0,754.7 758.0,752.1 759.0,754.5 760.0,751.7 761.0,755.1 762.0,752.6 763.0,755.6 764.0,752.6 765.0,755.2 766.0,751.9 767.0,754.7 768.0,752.6 769.0,755.3 770.0,754.9 771.0,755.2 772.0,755.2 773.0,755.1 774.0,755.0 775.0,755.2 776.0,754.9 777.0,755.2 778.0,755.0 779.0,754.9 780.0,754.9 781.0,754.7 782.0,754.8 783.0,754.8 784.0,755.0 785.0,755.0 786.0,755.0 787.0,755.0 788.0,755.1 789.0,755.1 790.0,754.9 791.0,754.8 792.0,754.8 793.0,754.9 794.0,755.1 795.0,755.2 796.0,754.8 797.0,754.8 798.0,754.9 799.0,755.0 800.0,755.1 801.0,755.2 802.0,755.2 803.0,754.8 804.0,754.9 805.0,755.0 806.0,754.7 807.0,755.2 808.0,755.1 809.0,755.1 810.0,755.2 811.0,755.1 812.0,755.7 813.0,755.7 814.0,754.7 815.0,755.0 816.0,755.1 817.0,755.4 818.0,755.7 819.0,754.8 820.0,754.7 821.0,755.3 822.0,755.7 823.0,755.4 824.0,755.7 825.0,755.1 826.0,755.6 827.0,755.7 828.0,755.2 829.0,754.9 830.0,755.0 831.0,755.7 832.0,754.7 833.0,755.6 834.0,755.6 835.0,755.5 836.0,755.7 837.0,755.8 838.0,754.8 839.0,755.8 840.0,755.7 841.0,755.3 842.0,755.6 843.0,755.6 844.0,754.8 845.0,755.1 846.0,755.1 847.0,755.2 848.0,755.4 849.0,755.6 850.0,755.2 851.0,756.6 852.0,751.6 853.0,755.5 854.0,752.3 855.0,755.6 856.0,752.8 857.0,755.9 858.0,752.6 859.0,755.5 860.0,752.6 861.0,756.0 862.0,751.8 863.0,756.8 864.0,752.5 865.0,755.6 866.0,751.8 867.0,757.0 868.0,751.4 869.0,756.4 870.0,752.6 871.0,756.0 872.0,751.5 873.0,755.6 874.0,752.9 875.0,756.9 876.0,751.3 877.0,755.4 878.0,751.6 879.0,756.8 880.0,752.9 881.0,756.2 882.0,753.0 883.0,756.5 884.0,752.6 885.0,755.2 886.0,751.2 887.0,755.3 888.0,751.5 889.0,756.5 890.0,752.9 891.0,755.3 892.0,751.9 893.0,757.0 894.0,752.5 895.0,756.6 896.0,751.9 897.0,755.7 898.0,752.4 899.0,756.7 900.0,751.9 901.0,755.1 902.0,751.8 903.0,756.1 904.0,751.3 905.0,757.0 906.0,752.3 907.0,756.1 908.0,752.9 909.0,755.8 910.0,752.9 911.0,756.5 912.0,751.4 913.0,756.8 914.0,752.6 915.0,756.5 916.0,751.7 917.0,755.9 918.0,752.8 919.0,756.9 920.0,751.7 921.0,756.4 922.0,752.3 923.0,755.2 924.0,753.0 925.0,755.1 926.0,753.0 927.0,756.0 928.0,751.5 929.0,755.3 930.0,751.6 931.0,756.3 932.0,751.9 933.0,756.1 934.0,751.4 935.0,756.6 936.0,751.4 937.0,756.5 938.0,752.0 939.0,755.9 940.0,752.1 941.0,755.9 942.0,752.2 943.0,756.7 944.0,751.9 945.0,756.5 946.0,752.1 947.0,756.7 948.0,751.9 949.0,756.4 950.0,751.3 951.0,755.2 952.0,751.2 953.0,756.9 954.0,751.7 955.0,755.5 956.0,752.9 957.0,755.6 958.0,752.8 959.0,756.7 960.0,752.1 961.0,756.2 962.0,751.4 963.0,756.6 964.0,751.7 965.0,755.7 966.0,752.0 967.0,756.9 968.0,751.9 969.0,755.3 970.0,751.7 971.0,755.7 972.0,751.6 973.0,756.4 974.0,752.5 975.0,756.4 976.0,752.2 977.0,755.5 978.0,751.3 979.0,756.5 980.0,752.2 981.0,756.2 982.0,752.6 983.0,755.5 984.0,752.8 985.0,756.8 986.0,751.2 987.0,756.2 988.0,752.6 989.0,756.0 990.0,752.8 991.0,755.9 992.0,752.7 993.0,756.1 994.0,751.7 995.0,755.8 996.0,752.9 997.0,757.0 998.0,752.0 999.0,755.2 1000.0,752.4 1001.0,756.3 1002.0,753.0 1003.0,756.5 1004.0,752.2 1005.0,756.5 1006.0,751.3 1007.0,756.4 1008.0,752.1 1009.0,757.0 1010.0,751.7" fill="none" stroke="#0072BD" stroke-width="4.3" stroke-linejoin="round" stroke-miterlimit="3" clip-path="url(#cd)"/><polyline points="610.0,752.7 611.0,755.2 612.0,751.7 613.0,756.3 614.0,752.0 615.0,755.3 616.0,751.2 617.0,755.9 618.0,751.2 619.0,755.8 620.0,751.9 621.0,756.2 622.0,751.1 623.0,756.9 624.0,751.7 625.0,756.1 626.0,751.9 627.0,756.0 628.0,752.5 629.0,756.5 630.0,752.8 631.0,755.6 632.0,751.5 633.0,756.7 634.0,751.1 635.0,755.5 636.0,752.8 637.0,756.7 638.0,751.2 639.0,756.4 640.0,752.0 641.0,755.6 642.0,752.7 643.0,755.4 644.0,752.1 645.0,756.9 646.0,752.4 647.0,755.2 648.0,751.6 649.0,756.1 650.0,752.3 651.0,756.9 652.0,751.4 653.0,756.4 654.0,751.5 655.0,756.1 656.0,752.3 657.0,755.3 658.0,752.4 659.0,756.2 660.0,752.1 661.0,756.3 662.0,752.4 663.0,756.4 664.0,753.0 665.0,755.9 666.0,751.4 667.0,755.7 668.0,753.0 669.0,757.0 670.0,752.2 671.0,755.5 672.0,753.0 673.0,756.4 674.0,753.0 675.0,755.3 676.0,751.7 677.0,756.1 678.0,752.0 679.0,756.9 680.0,752.6 681.0,755.3 682.0,751.3 683.0,755.1 684.0,752.0 685.0,756.4 686.0,751.2 687.0,756.8 688.0,752.5 689.0,755.6 690.0,752.0 691.0,756.4 692.0,752.1 693.0,756.0 694.0,752.1 695.0,756.1 696.0,752.8 697.0,756.5 698.0,751.3 699.0,756.1 700.0,752.0 701.0,755.6 702.0,752.9 703.0,756.8 704.0,751.5 705.0,755.4 706.0,752.9 707.0,755.8 708.0,751.2 709.0,755.4 710.0,752.0 711.0,756.5 712.0,751.1 713.0,755.8 714.0,752.4 715.0,755.8 716.0,751.5 717.0,755.1 718.0,751.7 719.0,755.9 720.0,752.8 721.0,756.3 722.0,751.1 723.0,755.8 724.0,752.4 725.0,756.3 726.0,751.2 727.0,756.4 728.0,752.8 729.0,755.7 730.0,752.6 731.0,756.2 732.0,752.0 733.0,755.5 734.0,752.0 735.0,756.1 736.0,751.7 737.0,756.6 738.0,752.1 739.0,755.8 740.0,752.7 741.0,755.9 742.0,752.6 743.0,756.5 744.0,752.9 745.0,755.4 746.0,751.1 747.0,755.5 748.0,751.7 749.0,756.8 750.0,752.3 751.0,755.8 752.0,751.4 753.0,755.6 754.0,751.6 755.0,755.6 756.0,751.4 757.0,756.7 758.0,751.8 759.0,756.8 760.0,751.6 761.0,755.6 762.0,751.5 763.0,755.5 764.0,752.3 765.0,755.9 766.0,752.0 767.0,755.1 768.0,751.8 769.0,756.5 770.0,754.8 771.0,755.6 772.0,754.8 773.0,755.1 774.0,754.7 775.0,755.3 776.0,755.7 777.0,755.3 778.0,755.6 779.0,755.4 780.0,755.1 781.0,755.1 782.0,755.1 783.0,755.0 784.0,755.4 785.0,755.7 786.0,755.7 787.0,754.9 788.0,754.9 789.0,754.9 790.0,755.5 791.0,754.9 792.0,755.6 793.0,755.6 794.0,754.7 795.0,755.6 796.0,754.9 797.0,754.8 798.0,754.9 799.0,755.1 800.0,755.5 801.0,755.5 802.0,754.7 803.0,754.8 804.0,755.4 805.0,755.6 806.0,755.3 807.0,754.9 808.0,755.1 809.0,755.1 810.0,755.7 811.0,754.7 812.0,755.0 813.0,754.9 814.0,754.8 815.0,755.2 816.0,755.0 817.0,754.7 818.0,755.1 819.0,755.1 820.0,754.7 821.0,754.8 822.0,754.9 823.0,755.0 824.0,754.9 825.0,754.9 826.0,754.7 827.0,754.7 828.0,755.0 829.0,754.9 830.0,755.1 831.0,755.2 832.0,754.8 833.0,754.9 834.0,755.2 835.0,755.2 836.0,754.9 837.0,754.7 838.0,754.8 839.0,755.2 840.0,755.0 841.0,755.0 842.0,754.8 843.0,755.1 844.0,754.9 845.0,754.7 846.0,754.9 847.0,755.1 848.0,754.8 849.0,754.8 850.0,755.0 851.0,755.1 852.0,751.6 853.0,754.5 854.0,752.1 855.0,754.9 856.0,752.3 857.0,754.9 858.0,752.5 859.0,755.1 860.0,752.3 861.0,755.4 862.0,752.7 863.0,754.6 864.0,752.9 865.0,755.2 866.0,752.8 867.0,754.5 868.0,752.8 869.0,755.6 870.0,752.3 871.0,754.4 872.0,752.7 873.0,754.4 874.0,751.7 875.0,754.9 876.0,752.8 877.0,754.5 878.0,751.6 879.0,754.3 880.0,752.0 881.0,754.8 882.0,752.4 883.0,754.4 884.0,752.8 885.0,755.4 886.0,752.3 887.0,754.4 888.0,752.8 889.0,754.7 890.0,752.1 891.0,754.7 892.0,751.7 893.0,754.4 894.0,751.9 895.0,754.4 896.0,751.7 897.0,755.6 898.0,752.6 899.0,755.4 900.0,752.9 901.0,754.9 902.0,751.7 903.0,755.6 904.0,751.7 905.0,755.5 906.0,751.8 907.0,754.7 908.0,752.7 909.0,755.2 910.0,752.2 911.0,754.4 912.0,752.4 913.0,754.4 914.0,752.3 915.0,754.7 916.0,752.4 917.0,754.3 918.0,751.9 919.0,754.6 920.0,752.3 921.0,754.8 922.0,752.5 923.0,755.4 924.0,752.0 925.0,755.5 926.0,752.4 927.0,754.9 928.0,752.2 929.0,755.1 930.0,751.7 931.0,754.4 932.0,751.6 933.0,755.5 934.0,752.6 935.0,754.9 936.0,752.0 937.0,754.8 938.0,752.4 939.0,754.9 940.0,752.5 941.0,755.4 942.0,751.6 943.0,755.3 944.0,751.8 945.0,755.6 946.0,752.3 947.0,755.5 948.0,751.8 949.0,755.1 950.0,751.8 951.0,755.5 952.0,752.9 953.0,755.2 954.0,751.6 955.0,755.6 956.0,752.4 957.0,754.4 958.0,752.6 959.0,754.4 960.0,752.9 961.0,754.6 962.0,752.3 963.0,755.4 964.0,752.4 965.0,755.2 966.0,751.9 967.0,754.7 968.0,752.9 969.0,754.4 970.0,752.9 971.0,754.9 972.0,752.3 973.0,754.4 974.0,752.4 975.0,755.6 976.0,752.3 977.0,754.6 978.0,752.7 979.0,755.1 980.0,752.8 981.0,755.5 982.0,752.5 983.0,755.1 984.0,752.3 985.0,755.1 986.0,751.8 987.0,755.2 988.0,752.0 989.0,754.4 990.0,752.1 991.0,755.5 992.0,752.8 993.0,755.5 994.0,751.9 995.0,754.7 996.0,752.3 997.0,754.7 998.0,752.6 999.0,755.5 1000.0,752.4 1001.0,755.2 1002.0,752.6 1003.0,755.1 1004.0,752.2 1005.0,754.4 1006.0,751.6 1007.0,754.9 1008.0,752.7 1009.0,754.9 1010.0,752.6" fill="none" stroke="#D95319" stroke-width="4.3" stroke-linejoin="round" stroke-miterlimit="3" clip-path="url(#cd)"/><polyline points="811.0,755.1 812.0,755.7 813.0,755.7 814.0,754.7 815.0,755.0 816.0,755.1 817.0,755.4 818.0,755.7 819.0,754.8 820.0,754.7 821.0,755.3 822.0,755.7 823.0,755.4 824.0,755.7 825.0,755.1 826.0,755.6 827.0,755.7 828.0,755.2 829.0,754.9 830.0,755.0 831.0,755.7 832.0,754.7 833.0,755.6 834.0,755.6 835.0,755.5 836.0,755.7 837.0,755.8 838.0,754.8 839.0,755.8 840.0,755.7 841.0,755.3 842.0,755.6 843.0,755.6 844.0,754.8 845.0,755.1 846.0,755.1 847.0,755.2 848.0,755.4 849.0,755.6 850.0,755.2 851.0,756.6 852.0,751.6 853.0,755.5 854.0,752.3 855.0,755.6 856.0,752.8 857.0,755.9 858.0,752.6 859.0,755.5 860.0,752.6 861.0,756.0 862.0,751.8 863.0,756.8 864.0,752.5 865.0,755.6 866.0,751.8 867.0,757.0 868.0,751.4 869.0,756.4 870.0,752.6 871.0,756.0 872.0,751.5 873.0,755.6 874.0,752.9 875.0,756.9 876.0,751.3 877.0,755.4 878.0,751.6 879.0,756.8 880.0,752.9 881.0,756.2 882.0,753.0 883.0,756.5 884.0,752.6 885.0,755.2 886.0,751.2 887.0,755.3 888.0,751.5 889.0,756.5 890.0,752.9 891.0,755.3 892.0,751.9 893.0,757.0 894.0,752.5 895.0,756.6 896.0,751.9 897.0,755.7 898.0,752.4 899.0,756.7 900.0,751.9 901.0,755.1 902.0,751.8 903.0,756.1 904.0,751.3 905.0,757.0 906.0,752.3 907.0,756.1 908.0,752.9 909.0,755.8 910.0,752.9 911.0,756.5 912.0,751.4 913.0,756.8 914.0,752.6 915.0,756.5 916.0,751.7 917.0,755.9 918.0,752.8 919.0,756.9 920.0,751.7 921.0,756.4 922.0,752.3 923.0,755.2 924.0,753.0 925.0,755.1 926.0,753.0 927.0,756.0 928.0,751.5 929.0,755.3 930.0,751.6 931.0,756.3 932.0,751.9 933.0,756.1 934.0,751.4 935.0,756.6 936.0,751.4 937.0,756.5 938.0,752.0 939.0,755.9 940.0,752.1 941.0,755.9 942.0,752.2 943.0,756.7 944.0,751.9 945.0,756.5 946.0,752.1 947.0,756.7 948.0,751.9 949.0,756.4 950.0,751.3 951.0,755.2 952.0,751.2 953.0,756.9 954.0,751.7 955.0,755.5 956.0,752.9 957.0,755.6 958.0,752.8 959.0,756.7 960.0,752.1 961.0,756.2 962.0,751.4 963.0,756.6 964.0,751.7 965.0,755.7 966.0,752.0 967.0,756.9 968.0,751.9 969.0,755.3 970.0,751.7 971.0,755.7 972.0,751.6 973.0,756.4 974.0,752.5 975.0,756.4 976.0,752.2 977.0,755.5 978.0,751.3 979.0,756.5 980.0,752.2 981.0,756.2 982.0,752.6 983.0,755.5 984.0,752.8 985.0,756.8 986.0,751.2 987.0,756.2 988.0,752.6 989.0,756.0 990.0,752.8 991.0,755.9 992.0,752.7 993.0,756.1 994.0,751.7 995.0,755.8 996.0,752.9 997.0,757.0 998.0,752.0 999.0,755.2 1000.0,752.4 1001.0,756.3 1002.0,753.0 1003.0,756.5 1004.0,752.2 1005.0,756.5 1006.0,751.3 1007.0,756.4 1008.0,752.1 1009.0,757.0 1010.0,751.7" fill="none" stroke="#0072BD" stroke-width="4.3" stroke-linejoin="round" stroke-miterlimit="3" clip-path="url(#cd)"/><rect x="806.00" y="507.13" width="9.00" height="250.57" fill="#EDB120"/><rect x="802.95" y="528.26" width="3.80" height="229.44" fill="#D95319"/><rect x="814.60" y="528.26" width="3.30" height="229.44" fill="#D95319"/><rect x="807.90" y="485.27" width="5.00" height="272.43" fill="#0072BD"/><rect x="802.95" y="732.11" width="7.45" height="25.59" fill="#D95319"/><rect x="810.40" y="732.11" width="7.00" height="25.59" fill="#0072BD"/><text transform="translate(283.5 19)" font-size="25.4" text-anchor="middle" fill="#1a1a1a">Inertial angular velocity in time domain</text><text transform="translate(826 22.7)" font-size="25.5" text-anchor="middle" fill="#1a1a1a">FFT of inertial data</text><text transform="translate(267.4 458.1)" font-size="25.35" text-anchor="middle" fill="#1a1a1a">Visual angular velocity in time domain</text><text transform="translate(819.3 464.3)" font-size="25.5" text-anchor="middle" fill="#1a1a1a">FFT of visual data</text><text transform="translate(22.5 186.8) rotate(-90)" font-size="31.75" text-anchor="middle" fill="#1a1a1a">w [rad/s]</text><text transform="translate(22.5 620) rotate(-90)" font-size="31.75" text-anchor="middle" fill="#1a1a1a">w [rad/s]</text><text transform="translate(534.8 186.3) rotate(-90)" font-size="30.5" text-anchor="middle" fill="#1a1a1a">Abs</text><text transform="translate(534.8 620) rotate(-90)" font-size="30.5" text-anchor="middle" fill="#1a1a1a">Abs</text><text transform="translate(264.4 406.6)" font-size="30" text-anchor="middle" fill="#1a1a1a">(a)</text><text transform="translate(809.4 401.9)" font-size="30" text-anchor="middle" fill="#1a1a1a">(b)</text><text transform="translate(263.5 832)" font-size="30" text-anchor="middle" fill="#1a1a1a">(c)</text><text transform="translate(809.6 830.8)" font-size="30" text-anchor="middle" fill="#1a1a1a">(d)</text><text transform="translate(262.5 888.8)" font-size="31.2" text-anchor="middle" fill="#1a1a1a">Time [s]</text><text transform="translate(809.2 887.5)" font-size="31.0" text-anchor="middle" fill="#1a1a1a">Frequency [Hz]</text></svg>
</body></html>
